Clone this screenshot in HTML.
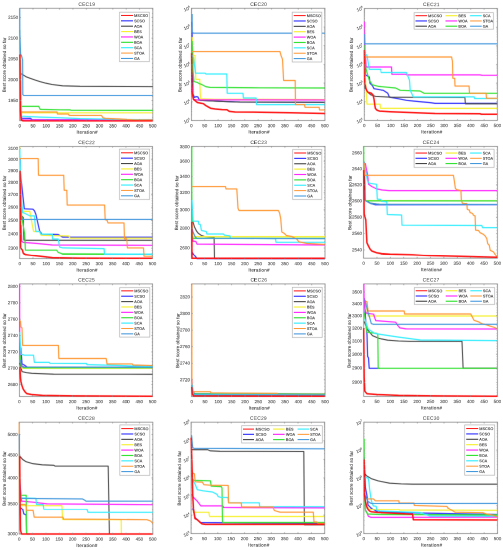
<!DOCTYPE html><html><head><meta charset="utf-8"><title>Convergence curves CEC19-CEC30</title><style>html,body{margin:0;padding:0;background:#fff;}svg{display:block;}#c{position:relative;width:503px;height:550px;overflow:hidden;}#w{position:absolute;left:0;top:0;width:1006px;height:1100px;transform:scale(0.5);transform-origin:0 0;will-change:transform;}</style></head><body><div id="c"><div id="w">
<svg width="1006" height="1100" viewBox="0 0 503 550" font-family="'Liberation Sans', Arial, Helvetica, sans-serif">
<defs><filter id="bl" x="0" y="0" width="503" height="550" filterUnits="userSpaceOnUse" color-interpolation-filters="sRGB"><feConvolveMatrix order="3" kernelMatrix="1 2 1 2 20 2 1 2 1" divisor="32" edgeMode="duplicate"/></filter></defs>
<rect width="503" height="550" fill="#fff"/>
<g filter="url(#bl)">
<g><clipPath id="c0"><rect x="18.7" y="7.3" width="135.1" height="114.4"/></clipPath><rect x="19.7" y="8.3" width="133.1" height="112.4" fill="none" stroke="#8a8a8a" stroke-width="0.8"/><g clip-path="url(#c0)" fill="none" stroke-linejoin="round" stroke-linecap="butt"><polyline points="20.4,100 21.2,118.3 30.5,118.4 32,119.6 152.8,119.9" stroke="#3535ff" stroke-width="1.2"/><polyline points="20.4,73.3 23,74.8 26,76.7 30,78.2 35,80 40,81.6 46,83.2 52,84.5 62.7,85.8 80,86.3 152.8,86.6" stroke="#454545" stroke-width="1.05"/><polyline points="20.3,60 20.8,112.8 152.8,112.8" stroke="#f6f030" stroke-width="1.2"/><polyline points="20.8,110 21.8,119.9 152.8,120" stroke="#ff28ff" stroke-width="1.2"/><polyline points="19.8,30 19.9,50 20.4,106.4 38.8,106.4 40.2,109.4 60,109.8 70.2,109.9 71,110.3 152.8,110.4" stroke="#34e234" stroke-width="1.2"/><polyline points="20.5,60 21.3,116.2 40,117.1 60,117.7 80,118.6 120,119.4 152.8,119.9" stroke="#34eeff" stroke-width="1.2"/><polyline points="19.9,50 20.1,54.5 20.8,111.9 57,111.9 57.5,114.1 68.4,114.1 69.2,115.4 101.5,115.4 103,117.8 105.4,118.3 120,119 132.5,119.8 152.8,119.9" stroke="#ff9632" stroke-width="1.15"/><polyline points="19.7,8.3 19.8,30 20.6,54 21.6,56 22.6,60 22.8,94.7 23.8,95.5 152.8,95.5" stroke="#4096dc" stroke-width="1.1"/><polyline points="19.9,54.5 20.3,110 21.2,119.8 23,120.9 152.8,121" stroke="#ff1010" stroke-width="1.5"/></g><path d="M19.7 120.7v-1.3M19.7 8.3v1.3M33.01 120.7v-1.3M33.01 8.3v1.3M46.32 120.7v-1.3M46.32 8.3v1.3M59.63 120.7v-1.3M59.63 8.3v1.3M72.94 120.7v-1.3M72.94 8.3v1.3M86.25 120.7v-1.3M86.25 8.3v1.3M99.56 120.7v-1.3M99.56 8.3v1.3M112.87 120.7v-1.3M112.87 8.3v1.3M126.18 120.7v-1.3M126.18 8.3v1.3M139.49 120.7v-1.3M139.49 8.3v1.3M152.8 120.7v-1.3M152.8 8.3v1.3M19.7 17.4h1.3M152.8 17.4h-1.3M19.7 38.2h1.3M152.8 38.2h-1.3M19.7 59h1.3M152.8 59h-1.3M19.7 79.8h1.3M152.8 79.8h-1.3M19.7 100.6h1.3M152.8 100.6h-1.3M152.8 9.08h-0.8M152.8 13.24h-0.8M152.8 17.4h-0.8M152.8 21.56h-0.8M152.8 25.72h-0.8M152.8 29.88h-0.8M152.8 34.04h-0.8M152.8 38.2h-0.8M152.8 42.36h-0.8M152.8 46.52h-0.8M152.8 50.68h-0.8M152.8 54.84h-0.8M152.8 59h-0.8M152.8 63.16h-0.8M152.8 67.32h-0.8M152.8 71.48h-0.8M152.8 75.64h-0.8M152.8 79.8h-0.8M152.8 83.96h-0.8M152.8 88.12h-0.8M152.8 92.28h-0.8M152.8 96.44h-0.8M152.8 100.6h-0.8M152.8 104.76h-0.8M152.8 108.92h-0.8M152.8 113.08h-0.8M152.8 117.24h-0.8" stroke="#8a8a8a" stroke-width="0.6" fill="none"/><rect x="119.5" y="12.2" width="29.8" height="49.5" fill="#fff" stroke="#a8a8a8" stroke-width="0.6"/></g>
<g><clipPath id="c1"><rect x="190.4" y="7.3" width="135.5" height="114.2"/></clipPath><rect x="191.4" y="8.3" width="133.5" height="112.2" fill="none" stroke="#8a8a8a" stroke-width="0.8"/><g clip-path="url(#c1)" fill="none" stroke-linejoin="round" stroke-linecap="butt"><polyline points="192,22 192.2,37 192.5,60 193,94 194.5,97.5 196,96.6 197.8,96.8 199,99.2 200.5,100.3 220,101.3 240,102 324.9,102.3" stroke="#3535ff" stroke-width="1.2"/><polyline points="192,80 193.5,99.5 200,100.4 220,101.3 235,102 324.9,102.3" stroke="#454545" stroke-width="1.05"/><polyline points="192.2,37 192.4,41 193.3,55.5 195,55.5 195.8,79.4 199.7,79.4 200.5,98.8 215,99.3 324.9,99.6" stroke="#f6f030" stroke-width="1.2"/><polyline points="192,85 193.5,99.8 324.9,100" stroke="#ff28ff" stroke-width="1.2"/><polyline points="192.2,41 192.4,51 193,70 193.9,81.3 195,81.8 197.4,82.4 199.2,83.6 201,84.2 203.4,85.4 205.7,86.6 209.8,87.4 260,87.8 324.9,88" stroke="#34e234" stroke-width="1.2"/><polyline points="192.5,55 193.5,57.8 195.5,73.2 205.1,73.2 206,74 226.8,74 227.2,93.3 243,93.3 243.4,98 256.1,98 256.5,104.6 324.9,104.6" stroke="#34eeff" stroke-width="1.2"/><polyline points="192,51.6 280,51.6 281,55.5 282.5,59.3 283.6,80.5 295.2,80.5 295.5,104.6 304.5,104.6 305,107.3 319.2,107.3 319.5,109.9 324.9,109.9" stroke="#ff9632" stroke-width="1.15"/><polyline points="192.2,14 192.2,32 193.4,33.2 324.9,33.2" stroke="#4096dc" stroke-width="1.1"/><polyline points="191.6,53 191.9,91.3 193.3,99 194.5,100.2 197.4,102.5 200.4,103.1 203.4,103.7 205.7,105.5 208.7,107.2 211,108.4 215.2,109 222.2,109.6 227,109.8 229.3,111.4 235,112 260,112.2 290,112.8 324.9,113.5" stroke="#ff1010" stroke-width="1.5"/></g><path d="M191.4 120.5v-1.3M191.4 8.3v1.3M204.75 120.5v-1.3M204.75 8.3v1.3M218.1 120.5v-1.3M218.1 8.3v1.3M231.45 120.5v-1.3M231.45 8.3v1.3M244.8 120.5v-1.3M244.8 8.3v1.3M258.15 120.5v-1.3M258.15 8.3v1.3M271.5 120.5v-1.3M271.5 8.3v1.3M284.85 120.5v-1.3M284.85 8.3v1.3M298.2 120.5v-1.3M298.2 8.3v1.3M311.55 120.5v-1.3M311.55 8.3v1.3M324.9 120.5v-1.3M324.9 8.3v1.3M191.4 8.3h1.3M324.9 8.3h-1.3M191.4 27h1.3M324.9 27h-1.3M191.4 45.7h1.3M324.9 45.7h-1.3M191.4 64.4h1.3M324.9 64.4h-1.3M191.4 83.1h1.3M324.9 83.1h-1.3M191.4 101.8h1.3M324.9 101.8h-1.3M191.4 120.5h1.3M324.9 120.5h-1.3M191.4 114.87h0.7M324.9 114.87h-0.7M191.4 111.58h0.7M324.9 111.58h-0.7M191.4 109.24h0.7M324.9 109.24h-0.7M191.4 107.43h0.7M324.9 107.43h-0.7M191.4 105.95h0.7M324.9 105.95h-0.7M191.4 104.7h0.7M324.9 104.7h-0.7M191.4 103.61h0.7M324.9 103.61h-0.7M191.4 102.66h0.7M324.9 102.66h-0.7M191.4 96.17h0.7M324.9 96.17h-0.7M191.4 92.88h0.7M324.9 92.88h-0.7M191.4 90.54h0.7M324.9 90.54h-0.7M191.4 88.73h0.7M324.9 88.73h-0.7M191.4 87.25h0.7M324.9 87.25h-0.7M191.4 86h0.7M324.9 86h-0.7M191.4 84.91h0.7M324.9 84.91h-0.7M191.4 83.96h0.7M324.9 83.96h-0.7M191.4 77.47h0.7M324.9 77.47h-0.7M191.4 74.18h0.7M324.9 74.18h-0.7M191.4 71.84h0.7M324.9 71.84h-0.7M191.4 70.03h0.7M324.9 70.03h-0.7M191.4 68.55h0.7M324.9 68.55h-0.7M191.4 67.3h0.7M324.9 67.3h-0.7M191.4 66.21h0.7M324.9 66.21h-0.7M191.4 65.26h0.7M324.9 65.26h-0.7M191.4 58.77h0.7M324.9 58.77h-0.7M191.4 55.48h0.7M324.9 55.48h-0.7M191.4 53.14h0.7M324.9 53.14h-0.7M191.4 51.33h0.7M324.9 51.33h-0.7M191.4 49.85h0.7M324.9 49.85h-0.7M191.4 48.6h0.7M324.9 48.6h-0.7M191.4 47.51h0.7M324.9 47.51h-0.7M191.4 46.56h0.7M324.9 46.56h-0.7M191.4 40.07h0.7M324.9 40.07h-0.7M191.4 36.78h0.7M324.9 36.78h-0.7M191.4 34.44h0.7M324.9 34.44h-0.7M191.4 32.63h0.7M324.9 32.63h-0.7M191.4 31.15h0.7M324.9 31.15h-0.7M191.4 29.9h0.7M324.9 29.9h-0.7M191.4 28.81h0.7M324.9 28.81h-0.7M191.4 27.86h0.7M324.9 27.86h-0.7M191.4 21.37h0.7M324.9 21.37h-0.7M191.4 18.08h0.7M324.9 18.08h-0.7M191.4 15.74h0.7M324.9 15.74h-0.7M191.4 13.93h0.7M324.9 13.93h-0.7M191.4 12.45h0.7M324.9 12.45h-0.7M191.4 11.2h0.7M324.9 11.2h-0.7M191.4 10.11h0.7M324.9 10.11h-0.7M191.4 9.16h0.7M324.9 9.16h-0.7" stroke="#8a8a8a" stroke-width="0.6" fill="none"/><rect x="292.2" y="12.2" width="29.6" height="49.8" fill="#fff" stroke="#a8a8a8" stroke-width="0.6"/></g>
<g><clipPath id="c2"><rect x="363.3" y="7.5" width="135.1" height="113.9"/></clipPath><rect x="364.3" y="8.5" width="133.1" height="111.9" fill="none" stroke="#8a8a8a" stroke-width="0.8"/><g clip-path="url(#c2)" fill="none" stroke-linejoin="round" stroke-linecap="butt"><polyline points="364.6,44 364.8,60 365.4,74.8 369.3,77 370,83.3 372.4,85.6 374,88.7 383.2,90.3 387.8,93.3 389.4,97.2 398.7,98.8 406.4,100.3 414.1,101.1 421.9,101.9 430,102.6 432,102.9 435,103.4 497.4,103.4" stroke="#3535ff" stroke-width="1.2"/><polyline points="364.6,60 365,87.9 368,92.5 370.8,94.9 375.5,96.4 390.9,97.2 420,97.4 464.9,97.5 465.4,103.8 497.4,103.8" stroke="#454545" stroke-width="1.05"/><polyline points="364.8,70 366.2,91 367,104.2 380.1,104.2 380.6,108.4 497.4,108.4" stroke="#f6f030" stroke-width="1.2"/><polyline points="364.5,21.5 364.6,34 365,50 366.2,67 391.5,67 391.9,74.3 406.4,74.3 406.8,74.9 480,74.9 482,75.3 497.4,75.3" stroke="#ff28ff" stroke-width="1.2"/><polyline points="364.6,45 365.4,66.3 367,72.5 369.3,80.2 372.4,84.8 378.6,86.4 395.6,88 400.2,90.3 420,91 424.2,93.3 497.4,93.3" stroke="#34e234" stroke-width="1.2"/><polyline points="364.8,50 365.4,53.9 367,55.5 369.3,69.4 380.9,69.4 381.2,72.5 406.4,72.5 409.5,80.2 410.2,90.3 413.3,96.9 474.2,96.9 474.6,98.5 497.4,98.5" stroke="#34eeff" stroke-width="1.2"/><polyline points="365,55 365.4,57 451.6,57 452.5,61.6 452.8,78.3 454.7,78.3 455,86.1 469.1,86.1 469.5,93.3 486.1,93.3 486.5,98.3 497.4,98.3" stroke="#ff9632" stroke-width="1.15"/><polyline points="364.6,34 364.7,43.8 365.5,43.8 497.4,43.8" stroke="#4096dc" stroke-width="1.1"/><polyline points="364.4,50 364.7,84.3 365.3,85.4 365.9,88.4 366.9,90.8 368.3,92.5 371.2,93.1 373,94.9 374,99 374.8,105 375.4,108.5 377.2,110.3 379.5,111.1 390,111.7 400,112.1 435,113.5 480,113.7 481,114.2 497.4,114.2" stroke="#ff1010" stroke-width="1.5"/></g><path d="M364.3 120.4v-1.3M364.3 8.5v1.3M377.61 120.4v-1.3M377.61 8.5v1.3M390.92 120.4v-1.3M390.92 8.5v1.3M404.23 120.4v-1.3M404.23 8.5v1.3M417.54 120.4v-1.3M417.54 8.5v1.3M430.85 120.4v-1.3M430.85 8.5v1.3M444.16 120.4v-1.3M444.16 8.5v1.3M457.47 120.4v-1.3M457.47 8.5v1.3M470.78 120.4v-1.3M470.78 8.5v1.3M484.09 120.4v-1.3M484.09 8.5v1.3M497.4 120.4v-1.3M497.4 8.5v1.3M364.3 8.5h1.3M497.4 8.5h-1.3M364.3 27.15h1.3M497.4 27.15h-1.3M364.3 45.8h1.3M497.4 45.8h-1.3M364.3 64.45h1.3M497.4 64.45h-1.3M364.3 83.1h1.3M497.4 83.1h-1.3M364.3 101.75h1.3M497.4 101.75h-1.3M364.3 120.4h1.3M497.4 120.4h-1.3M364.3 114.79h0.7M497.4 114.79h-0.7M364.3 111.5h0.7M497.4 111.5h-0.7M364.3 109.17h0.7M497.4 109.17h-0.7M364.3 107.36h0.7M497.4 107.36h-0.7M364.3 105.89h0.7M497.4 105.89h-0.7M364.3 104.64h0.7M497.4 104.64h-0.7M364.3 103.56h0.7M497.4 103.56h-0.7M364.3 102.6h0.7M497.4 102.6h-0.7M364.3 96.14h0.7M497.4 96.14h-0.7M364.3 92.85h0.7M497.4 92.85h-0.7M364.3 90.52h0.7M497.4 90.52h-0.7M364.3 88.71h0.7M497.4 88.71h-0.7M364.3 87.24h0.7M497.4 87.24h-0.7M364.3 85.99h0.7M497.4 85.99h-0.7M364.3 84.91h0.7M497.4 84.91h-0.7M364.3 83.95h0.7M497.4 83.95h-0.7M364.3 77.49h0.7M497.4 77.49h-0.7M364.3 74.2h0.7M497.4 74.2h-0.7M364.3 71.87h0.7M497.4 71.87h-0.7M364.3 70.06h0.7M497.4 70.06h-0.7M364.3 68.59h0.7M497.4 68.59h-0.7M364.3 67.34h0.7M497.4 67.34h-0.7M364.3 66.26h0.7M497.4 66.26h-0.7M364.3 65.3h0.7M497.4 65.3h-0.7M364.3 58.84h0.7M497.4 58.84h-0.7M364.3 55.55h0.7M497.4 55.55h-0.7M364.3 53.22h0.7M497.4 53.22h-0.7M364.3 51.41h0.7M497.4 51.41h-0.7M364.3 49.94h0.7M497.4 49.94h-0.7M364.3 48.69h0.7M497.4 48.69h-0.7M364.3 47.61h0.7M497.4 47.61h-0.7M364.3 46.65h0.7M497.4 46.65h-0.7M364.3 40.19h0.7M497.4 40.19h-0.7M364.3 36.9h0.7M497.4 36.9h-0.7M364.3 34.57h0.7M497.4 34.57h-0.7M364.3 32.76h0.7M497.4 32.76h-0.7M364.3 31.29h0.7M497.4 31.29h-0.7M364.3 30.04h0.7M497.4 30.04h-0.7M364.3 28.96h0.7M497.4 28.96h-0.7M364.3 28h0.7M497.4 28h-0.7M364.3 21.54h0.7M497.4 21.54h-0.7M364.3 18.25h0.7M497.4 18.25h-0.7M364.3 15.92h0.7M497.4 15.92h-0.7M364.3 14.11h0.7M497.4 14.11h-0.7M364.3 12.64h0.7M497.4 12.64h-0.7M364.3 11.39h0.7M497.4 11.39h-0.7M364.3 10.31h0.7M497.4 10.31h-0.7M364.3 9.35h0.7M497.4 9.35h-0.7" stroke="#8a8a8a" stroke-width="0.6" fill="none"/><rect x="414.1" y="12.7" width="79.4" height="16.5" fill="#fff" stroke="#a8a8a8" stroke-width="0.6"/></g>
<g><clipPath id="c3"><rect x="18.7" y="145.5" width="134.8" height="114.1"/></clipPath><rect x="19.7" y="146.5" width="132.8" height="112.1" fill="none" stroke="#8a8a8a" stroke-width="0.8"/><g clip-path="url(#c3)" fill="none" stroke-linejoin="round" stroke-linecap="butt"><polyline points="20.2,160 20.4,173 24.3,208.8 32.9,209.2 34.4,210.7 35.9,214.4 37.4,221.1 39.6,230.8 41.8,234.1 58.2,234.5 61.2,236.4 63,237.2 152.5,237.2" stroke="#3535ff" stroke-width="1.2"/><polyline points="20.5,215 23.2,217.4 23.9,240.1 25,240.3 152.5,240.3" stroke="#454545" stroke-width="1.05"/><polyline points="19.7,146.5 19.8,152 20.2,190 20.5,205 21.7,211.4 29.9,211.4 31.4,220.3 33.6,231.5 39.6,231.5 41.1,235.3 68.7,236 70,238.1 152.5,238.1" stroke="#f6f030" stroke-width="1.2"/><polyline points="21,225 21.7,241.2 23.2,242.4 37.4,243.5 52.3,245 152.5,245.3" stroke="#ff28ff" stroke-width="1.2"/><polyline points="21,200 21.7,217.4 24.7,233.8 25.4,250.2 56.7,250.2 58.2,252.4 62.7,253.9 152.5,254.2" stroke="#34e234" stroke-width="1.2"/><polyline points="19.8,149 20.1,161.6 21.5,200 22.7,212.7 23.9,212.9 29.9,215.9 34.4,215.9 35.9,231.5 39.6,231.5 40.3,233 41,234.1 52.3,234.1 52.6,239 58.2,239 59.7,247.2 63,247.9 104.1,248.6 104.5,254.1 152.5,254.1" stroke="#34eeff" stroke-width="1.2"/><polyline points="19.9,158.6 38.2,158.6 38.5,175.3 63.7,175.3 64.2,190.3 66.8,190.3 67.2,205.1 104.6,205.1 105.2,219.7 107,220.2 108,222.9 124,222.9 124.5,238.8 127,238.8 127.4,247.9 143.5,247.9 144,256.2 152.5,256.3" stroke="#ff9632" stroke-width="1.15"/><polyline points="20,205 21.2,219.4 152.5,219.4" stroke="#4096dc" stroke-width="1.1"/><polyline points="20.1,170.9 20.6,247.9 22.5,250.2 23.2,253.1 25.4,254.6 32.9,255.4 41.8,256.4 52.3,257.6 80,258.1 152.5,258.3" stroke="#ff1010" stroke-width="1.5"/></g><path d="M19.7 258.6v-1.3M19.7 146.5v1.3M32.98 258.6v-1.3M32.98 146.5v1.3M46.26 258.6v-1.3M46.26 146.5v1.3M59.54 258.6v-1.3M59.54 146.5v1.3M72.82 258.6v-1.3M72.82 146.5v1.3M86.1 258.6v-1.3M86.1 146.5v1.3M99.38 258.6v-1.3M99.38 146.5v1.3M112.66 258.6v-1.3M112.66 146.5v1.3M125.94 258.6v-1.3M125.94 146.5v1.3M139.22 258.6v-1.3M139.22 146.5v1.3M152.5 258.6v-1.3M152.5 146.5v1.3M19.7 148.5h1.3M152.5 148.5h-1.3M19.7 159.45h1.3M152.5 159.45h-1.3M19.7 170.77h1.3M152.5 170.77h-1.3M19.7 182.49h1.3M152.5 182.49h-1.3M19.7 194.64h1.3M152.5 194.64h-1.3M19.7 207.24h1.3M152.5 207.24h-1.3M19.7 220.34h1.3M152.5 220.34h-1.3M19.7 233.97h1.3M152.5 233.97h-1.3M19.7 248.19h1.3M152.5 248.19h-1.3M152.5 148.5h-0.8M152.5 150.99h-0.8M152.5 153.48h-0.8M152.5 155.98h-0.8M152.5 158.47h-0.8M152.5 160.96h-0.8M152.5 163.45h-0.8M152.5 165.95h-0.8M152.5 168.44h-0.8M152.5 170.93h-0.8M152.5 173.42h-0.8M152.5 175.91h-0.8M152.5 178.41h-0.8M152.5 180.9h-0.8M152.5 183.39h-0.8M152.5 185.88h-0.8M152.5 188.38h-0.8M152.5 190.87h-0.8M152.5 193.36h-0.8M152.5 195.85h-0.8M152.5 198.34h-0.8M152.5 200.84h-0.8M152.5 203.33h-0.8M152.5 205.82h-0.8M152.5 208.31h-0.8M152.5 210.81h-0.8M152.5 213.3h-0.8M152.5 215.79h-0.8M152.5 218.28h-0.8M152.5 220.77h-0.8M152.5 223.27h-0.8M152.5 225.76h-0.8M152.5 228.25h-0.8M152.5 230.74h-0.8M152.5 233.24h-0.8M152.5 235.73h-0.8M152.5 238.22h-0.8M152.5 240.71h-0.8M152.5 243.2h-0.8M152.5 245.7h-0.8M152.5 248.19h-0.8M152.5 250.68h-0.8M152.5 253.17h-0.8M152.5 255.67h-0.8M152.5 258.16h-0.8" stroke="#8a8a8a" stroke-width="0.6" fill="none"/><rect x="119.5" y="149.1" width="30" height="50.4" fill="#fff" stroke="#a8a8a8" stroke-width="0.6"/></g>
<g><clipPath id="c4"><rect x="190.4" y="145.4" width="135.6" height="114.2"/></clipPath><rect x="191.4" y="146.4" width="133.6" height="112.2" fill="none" stroke="#8a8a8a" stroke-width="0.8"/><g clip-path="url(#c4)" fill="none" stroke-linejoin="round" stroke-linecap="butt"><polyline points="192,252 192.9,253.6 195.9,257 197,258.6 325,258.6" stroke="#3535ff" stroke-width="1.2"/><polyline points="192,215 193,222 194.5,227 196.5,231 198.2,233.2 201,235.2 205,236.6 214.1,237.3 214.5,258.6 325,258.6" stroke="#454545" stroke-width="1.05"/><polyline points="192,226 192.9,236.6 325,236.6" stroke="#f6f030" stroke-width="1.2"/><polyline points="192,236 192.9,241.1 195.9,241.5 197,244.1 250,244.5 325,245" stroke="#ff28ff" stroke-width="1.2"/><polyline points="191.8,146.4 191.8,192 192.2,236 193,238.4 325,238.4" stroke="#34e234" stroke-width="1.2"/><polyline points="192,200 192.5,208 193,221.2 198.4,221.2 198.8,224.3 200.2,224.3 200.8,226.7 201.4,230.4 206.3,231.6 206.9,234 223.4,234 224.6,235.2 230,235.8 230.3,238.3 275.5,238.6 276,242.3 325,242.3" stroke="#34eeff" stroke-width="1.2"/><polyline points="191.8,186.6 225.5,186.6 226,188.9 236.8,188.9 238,208.2 239,210.5 278.4,210.5 279.5,212.7 280.7,218.4 281.8,232 284,233.2 286.4,235.5 292,236.6 296.6,238.9 298.9,241.8 306.8,243.4 325,244.5" stroke="#ff9632" stroke-width="1.15"/><polyline points="192,228 192.9,231.6 195.3,237.1 197.1,238.3 325,238.7" stroke="#4096dc" stroke-width="1.1"/><polyline points="191.8,222 192,258.2 325,258.2" stroke="#ff1010" stroke-width="1.5"/></g><path d="M191.4 258.6v-1.3M191.4 146.4v1.3M204.76 258.6v-1.3M204.76 146.4v1.3M218.12 258.6v-1.3M218.12 146.4v1.3M231.48 258.6v-1.3M231.48 146.4v1.3M244.84 258.6v-1.3M244.84 146.4v1.3M258.2 258.6v-1.3M258.2 146.4v1.3M271.56 258.6v-1.3M271.56 146.4v1.3M284.92 258.6v-1.3M284.92 146.4v1.3M298.28 258.6v-1.3M298.28 146.4v1.3M311.64 258.6v-1.3M311.64 146.4v1.3M325 258.6v-1.3M325 146.4v1.3M191.4 146.8h1.3M325 146.8h-1.3M191.4 161.22h1.3M325 161.22h-1.3M191.4 176.46h1.3M325 176.46h-1.3M191.4 192.63h1.3M325 192.63h-1.3M191.4 209.83h1.3M325 209.83h-1.3M191.4 228.23h1.3M325 228.23h-1.3M191.4 247.99h1.3M325 247.99h-1.3M325 146.8h-0.8M325 150.17h-0.8M325 153.55h-0.8M325 156.92h-0.8M325 160.29h-0.8M325 163.67h-0.8M325 167.04h-0.8M325 170.41h-0.8M325 173.78h-0.8M325 177.16h-0.8M325 180.53h-0.8M325 183.9h-0.8M325 187.28h-0.8M325 190.65h-0.8M325 194.02h-0.8M325 197.4h-0.8M325 200.77h-0.8M325 204.14h-0.8M325 207.52h-0.8M325 210.89h-0.8M325 214.26h-0.8M325 217.64h-0.8M325 221.01h-0.8M325 224.38h-0.8M325 227.75h-0.8M325 231.13h-0.8M325 234.5h-0.8M325 237.87h-0.8M325 241.25h-0.8M325 244.62h-0.8M325 247.99h-0.8M325 251.37h-0.8M325 254.74h-0.8M325 258.11h-0.8" stroke="#8a8a8a" stroke-width="0.6" fill="none"/><rect x="292.7" y="149.5" width="29.1" height="50" fill="#fff" stroke="#a8a8a8" stroke-width="0.6"/></g>
<g><clipPath id="c5"><rect x="362.6" y="145.4" width="135.8" height="113.8"/></clipPath><rect x="363.6" y="146.4" width="133.8" height="111.8" fill="none" stroke="#8a8a8a" stroke-width="0.8"/><g clip-path="url(#c5)" fill="none" stroke-linejoin="round" stroke-linecap="butt"><polyline points="364.1,161.6 365.2,200.2 370.9,203.6 375.5,204.8 497.4,204.6" stroke="#3535ff" stroke-width="1.2"/><polyline points="364.5,175 364.8,200.2 370,203 380,204.4 497.4,204.5" stroke="#454545" stroke-width="1.05"/><polyline points="364,195 364.5,200.6 497.4,200.8" stroke="#f6f030" stroke-width="1.2"/><polyline points="365.2,163 367.5,174.1 368.6,184.3 372,186.6 376.6,188.9 382.3,190 389.1,190.6 497.4,190.6" stroke="#ff28ff" stroke-width="1.2"/><polyline points="363.7,146.4 363.9,200.3 365,200.9 497.4,200.9" stroke="#34e234" stroke-width="1.2"/><polyline points="364.5,165 367.5,180.9 369.1,183.2 376.6,184.3 377.3,199.1 381.1,199.5 381.8,201.4 386.8,201.8 387.3,214.5 401.6,215 402,225.2 481.8,225.5 482.6,227.6 497.4,227.6" stroke="#34eeff" stroke-width="1.2"/><polyline points="364.2,163 364.5,175.2 365.2,175.3 453.4,175.3 454.2,180 455.4,188.4 456.7,189.7 460.9,190.4 461.4,200.9 462.6,203.4 466.8,203.6 467.3,209.3 469.3,210.1 470.1,212.6 472.6,213.5 473.4,215.2 475.1,216 475.6,230.2 478.5,230.5 480.1,232.7 483.5,234.4 485.2,236 486.8,238.6 487.7,243.6 489.3,245.3 490.2,250.3 493.5,251.9 495.2,254.4 497.4,257.3" stroke="#ff9632" stroke-width="1.15"/><polyline points="364.5,190 365,200.5 370.9,203.6 380,204.4 497.4,204.4" stroke="#4096dc" stroke-width="1.1"/><polyline points="363.7,170 364.2,214 364.8,216.4 365.8,220 366.4,232.7 366.9,242.7 368.2,245.5 370,249 371.8,251 376.4,252.7 381.8,253.6 390,254.2 412,254.8 430,255.5 460,256.3 497.4,257.3" stroke="#ff1010" stroke-width="1.5"/></g><path d="M363.6 258.2v-1.3M363.6 146.4v1.3M376.98 258.2v-1.3M376.98 146.4v1.3M390.36 258.2v-1.3M390.36 146.4v1.3M403.74 258.2v-1.3M403.74 146.4v1.3M417.12 258.2v-1.3M417.12 146.4v1.3M430.5 258.2v-1.3M430.5 146.4v1.3M443.88 258.2v-1.3M443.88 146.4v1.3M457.26 258.2v-1.3M457.26 146.4v1.3M470.64 258.2v-1.3M470.64 146.4v1.3M484.02 258.2v-1.3M484.02 146.4v1.3M497.4 258.2v-1.3M497.4 146.4v1.3M363.6 153h1.3M497.4 153h-1.3M363.6 168.86h1.3M497.4 168.86h-1.3M363.6 184.84h1.3M497.4 184.84h-1.3M363.6 200.94h1.3M497.4 200.94h-1.3M363.6 217.16h1.3M497.4 217.16h-1.3M363.6 233.51h1.3M497.4 233.51h-1.3M363.6 249.99h1.3M497.4 249.99h-1.3M497.4 146.53h-0.8M497.4 149.77h-0.8M497.4 153h-0.8M497.4 156.23h-0.8M497.4 159.47h-0.8M497.4 162.7h-0.8M497.4 165.93h-0.8M497.4 169.17h-0.8M497.4 172.4h-0.8M497.4 175.63h-0.8M497.4 178.86h-0.8M497.4 182.1h-0.8M497.4 185.33h-0.8M497.4 188.56h-0.8M497.4 191.8h-0.8M497.4 195.03h-0.8M497.4 198.26h-0.8M497.4 201.5h-0.8M497.4 204.73h-0.8M497.4 207.96h-0.8M497.4 211.2h-0.8M497.4 214.43h-0.8M497.4 217.66h-0.8M497.4 220.89h-0.8M497.4 224.13h-0.8M497.4 227.36h-0.8M497.4 230.59h-0.8M497.4 233.83h-0.8M497.4 237.06h-0.8M497.4 240.29h-0.8M497.4 243.53h-0.8M497.4 246.76h-0.8M497.4 249.99h-0.8M497.4 253.22h-0.8M497.4 256.46h-0.8" stroke="#8a8a8a" stroke-width="0.6" fill="none"/><rect x="414.1" y="149.2" width="80" height="18.2" fill="#fff" stroke="#a8a8a8" stroke-width="0.6"/></g>
<g><clipPath id="c6"><rect x="18.4" y="282.9" width="135.2" height="114.6"/></clipPath><rect x="19.4" y="283.9" width="133.2" height="112.6" fill="none" stroke="#8a8a8a" stroke-width="0.8"/><g clip-path="url(#c6)" fill="none" stroke-linejoin="round" stroke-linecap="butt"><polyline points="20.9,347.6 22,363.9 24.2,365 27.4,367.2 152.6,367.2" stroke="#3535ff" stroke-width="1.2"/><polyline points="19.8,362.8 22,371.6 26.4,372.6 31.8,373.3 53.6,374.2 152.6,374.3" stroke="#454545" stroke-width="1.05"/><polyline points="20.9,364 22,368.3 152.6,368.3" stroke="#f6f030" stroke-width="1.2"/><polyline points="19.6,283.9 19.7,343 20.5,362 22,366 25,367.3 152.6,367.5" stroke="#ff28ff" stroke-width="1.2"/><polyline points="20.2,355 21,366 24,367.8 152.6,367.8" stroke="#34e234" stroke-width="1.2"/><polyline points="19.8,332 20.9,354.1 24.2,355.2 33.5,355.2 34.4,362.4 49.2,362.4 50,363.3 86.5,363.5 87,364.6 120,365.5 152.6,366.6" stroke="#34eeff" stroke-width="1.2"/><polyline points="19.8,320.3 20.5,321.4 20.9,326.9 22,327.9 22.6,345.4 58.4,345.4 58.8,358.5 106.2,358.5 107,363.9 132.3,363.9 133,365 152.6,365.6" stroke="#ff9632" stroke-width="1.15"/><polyline points="20.5,360 22,367 152.6,367.3" stroke="#4096dc" stroke-width="1.1"/><polyline points="19.8,367.2 20.1,371 20.5,378 21,381.8 21.9,385.5 23.2,389.1 25,391.8 26.8,393.6 31.4,394.5 42.3,395.4 75,395.9 152.6,396.2" stroke="#ff1010" stroke-width="1.5"/></g><path d="M19.4 396.5v-1.3M19.4 283.9v1.3M32.72 396.5v-1.3M32.72 283.9v1.3M46.04 396.5v-1.3M46.04 283.9v1.3M59.36 396.5v-1.3M59.36 283.9v1.3M72.68 396.5v-1.3M72.68 283.9v1.3M86 396.5v-1.3M86 283.9v1.3M99.32 396.5v-1.3M99.32 283.9v1.3M112.64 396.5v-1.3M112.64 283.9v1.3M125.96 396.5v-1.3M125.96 283.9v1.3M139.28 396.5v-1.3M139.28 283.9v1.3M152.6 396.5v-1.3M152.6 283.9v1.3M19.4 286.5h1.3M152.6 286.5h-1.3M19.4 302.85h1.3M152.6 302.85h-1.3M19.4 319.2h1.3M152.6 319.2h-1.3M19.4 335.55h1.3M152.6 335.55h-1.3M19.4 351.9h1.3M152.6 351.9h-1.3M19.4 368.25h1.3M152.6 368.25h-1.3M19.4 384.6h1.3M152.6 384.6h-1.3M152.6 286.5h-0.8M152.6 289.77h-0.8M152.6 293.04h-0.8M152.6 296.31h-0.8M152.6 299.58h-0.8M152.6 302.85h-0.8M152.6 306.12h-0.8M152.6 309.39h-0.8M152.6 312.66h-0.8M152.6 315.93h-0.8M152.6 319.2h-0.8M152.6 322.47h-0.8M152.6 325.74h-0.8M152.6 329.01h-0.8M152.6 332.28h-0.8M152.6 335.55h-0.8M152.6 338.82h-0.8M152.6 342.09h-0.8M152.6 345.36h-0.8M152.6 348.63h-0.8M152.6 351.9h-0.8M152.6 355.17h-0.8M152.6 358.44h-0.8M152.6 361.71h-0.8M152.6 364.98h-0.8M152.6 368.25h-0.8M152.6 371.52h-0.8M152.6 374.79h-0.8M152.6 378.06h-0.8M152.6 381.33h-0.8M152.6 384.6h-0.8M152.6 387.87h-0.8M152.6 391.14h-0.8M152.6 394.41h-0.8" stroke="#8a8a8a" stroke-width="0.6" fill="none"/><rect x="119.7" y="287.6" width="30.1" height="49.5" fill="#fff" stroke="#a8a8a8" stroke-width="0.6"/></g>
<g><clipPath id="c7"><rect x="190.6" y="282.9" width="135.5" height="114.7"/></clipPath><rect x="191.6" y="283.9" width="133.5" height="112.7" fill="none" stroke="#8a8a8a" stroke-width="0.8"/><g clip-path="url(#c7)" fill="none" stroke-linejoin="round" stroke-linecap="butt"><polyline points="192,386 192.8,393.5 195,394.6 325.1,394.8" stroke="#3535ff" stroke-width="1.2"/><polyline points="191.8,380 192.5,392.5 195,393.5 325.1,393.9" stroke="#454545" stroke-width="1.05"/><polyline points="192,388 193,394 325.1,394.4" stroke="#f6f030" stroke-width="1.2"/><polyline points="191.9,378 192.6,392 194,394.3 325.1,394.6" stroke="#ff28ff" stroke-width="1.2"/><polyline points="192,387 193,393.8 325.1,394.3" stroke="#34e234" stroke-width="1.2"/><polyline points="192,383 193.5,394.2 325.1,394.8" stroke="#34eeff" stroke-width="1.2"/><polyline points="191.8,283.9 191.9,385 192.5,390.6 192.9,391.7 210.3,391.7 211,392.8 229.7,393.1 277.4,393.3 278,395 325.1,395" stroke="#ff9632" stroke-width="1.15"/><polyline points="191.8,385 193,394.5 195,395 325.1,395.1" stroke="#4096dc" stroke-width="1.1"/><polyline points="191.7,387 192.2,394 193.5,395.9 325.1,396.3" stroke="#ff1010" stroke-width="1.5"/></g><path d="M191.6 396.6v-1.3M191.6 283.9v1.3M204.95 396.6v-1.3M204.95 283.9v1.3M218.3 396.6v-1.3M218.3 283.9v1.3M231.65 396.6v-1.3M231.65 283.9v1.3M245 396.6v-1.3M245 283.9v1.3M258.35 396.6v-1.3M258.35 283.9v1.3M271.7 396.6v-1.3M271.7 283.9v1.3M285.05 396.6v-1.3M285.05 283.9v1.3M298.4 396.6v-1.3M298.4 283.9v1.3M311.75 396.6v-1.3M311.75 283.9v1.3M325.1 396.6v-1.3M325.1 283.9v1.3M191.6 297h1.3M325.1 297h-1.3M191.6 313.56h1.3M325.1 313.56h-1.3M191.6 330.12h1.3M325.1 330.12h-1.3M191.6 346.68h1.3M325.1 346.68h-1.3M191.6 363.24h1.3M325.1 363.24h-1.3M191.6 379.8h1.3M325.1 379.8h-1.3M325.1 287.06h-0.8M325.1 290.38h-0.8M325.1 293.69h-0.8M325.1 297h-0.8M325.1 300.31h-0.8M325.1 303.62h-0.8M325.1 306.94h-0.8M325.1 310.25h-0.8M325.1 313.56h-0.8M325.1 316.87h-0.8M325.1 320.18h-0.8M325.1 323.5h-0.8M325.1 326.81h-0.8M325.1 330.12h-0.8M325.1 333.43h-0.8M325.1 336.74h-0.8M325.1 340.06h-0.8M325.1 343.37h-0.8M325.1 346.68h-0.8M325.1 349.99h-0.8M325.1 353.3h-0.8M325.1 356.62h-0.8M325.1 359.93h-0.8M325.1 363.24h-0.8M325.1 366.55h-0.8M325.1 369.86h-0.8M325.1 373.18h-0.8M325.1 376.49h-0.8M325.1 379.8h-0.8M325.1 383.11h-0.8M325.1 386.42h-0.8M325.1 389.74h-0.8M325.1 393.05h-0.8M325.1 396.36h-0.8" stroke="#8a8a8a" stroke-width="0.6" fill="none"/><rect x="292.3" y="287.3" width="29.9" height="50.2" fill="#fff" stroke="#a8a8a8" stroke-width="0.6"/></g>
<g><clipPath id="c8"><rect x="362.7" y="282.9" width="135.7" height="114.5"/></clipPath><rect x="363.7" y="283.9" width="133.7" height="112.5" fill="none" stroke="#8a8a8a" stroke-width="0.8"/><g clip-path="url(#c8)" fill="none" stroke-linejoin="round" stroke-linecap="butt"><polyline points="364.2,298 365.9,323.6 367,334.5 367.6,356.3 368.5,358 369.2,368.3 376.8,368.3 380,368.3" stroke="#3535ff" stroke-width="1.2"/><polyline points="364.2,321.4 367,329 372.4,335.6 379,338.4 387.7,340.2 398.6,341 409.5,341.4 462,341.4 463.1,368.2 497.4,368.2" stroke="#454545" stroke-width="1.05"/><polyline points="365.9,305 368.1,316 497.4,316" stroke="#f6f030" stroke-width="1.2"/><polyline points="363.9,283.9 364.1,300 365.2,310.5 366.2,313.2 373.7,314.2 374.7,317.8 375.8,320.6 395.7,322.2 397.8,325.5 399.8,327.9 406,328.9 497.4,329" stroke="#ff28ff" stroke-width="1.2"/><polyline points="364.2,312.7 367,332.3 376.7,333.4 377.8,334.5 378.2,368.3 497.4,368.3" stroke="#34e234" stroke-width="1.2"/><polyline points="364.8,319.2 368.1,329 374.6,333.4 381.2,334.5 398.6,337.1 420.4,340 497.4,340.6" stroke="#34eeff" stroke-width="1.2"/><polyline points="364.8,300.7 367,301.8 368.1,311 404.2,311 404.6,314 470.8,314 471.8,316 474,320.3 478.4,321.8 481.6,323.6 486,324.7 490.4,326.2 494.7,327.5 497.4,329" stroke="#ff9632" stroke-width="1.15"/><polyline points="364.8,299.6 368.1,312.7 369.8,318.1 371.3,323.6 373.5,324.3 497.4,324.3" stroke="#4096dc" stroke-width="1.1"/><polyline points="363.7,328 364.2,378 364.8,391.2 367,393.8 376.8,394.5 398.6,395.4 435,395.9 497.4,396.2" stroke="#ff1010" stroke-width="1.5"/></g><path d="M363.7 396.4v-1.3M363.7 283.9v1.3M377.07 396.4v-1.3M377.07 283.9v1.3M390.44 396.4v-1.3M390.44 283.9v1.3M403.81 396.4v-1.3M403.81 283.9v1.3M417.18 396.4v-1.3M417.18 283.9v1.3M430.55 396.4v-1.3M430.55 283.9v1.3M443.92 396.4v-1.3M443.92 283.9v1.3M457.29 396.4v-1.3M457.29 283.9v1.3M470.66 396.4v-1.3M470.66 283.9v1.3M484.03 396.4v-1.3M484.03 283.9v1.3M497.4 396.4v-1.3M497.4 283.9v1.3M363.7 292.1h1.3M497.4 292.1h-1.3M363.7 303.8h1.3M497.4 303.8h-1.3M363.7 315.86h1.3M497.4 315.86h-1.3M363.7 328.28h1.3M497.4 328.28h-1.3M363.7 341.1h1.3M497.4 341.1h-1.3M363.7 354.34h1.3M497.4 354.34h-1.3M363.7 368.03h1.3M497.4 368.03h-1.3M363.7 382.2h1.3M497.4 382.2h-1.3M497.4 284.38h-0.8M497.4 286.95h-0.8M497.4 289.53h-0.8M497.4 292.1h-0.8M497.4 294.67h-0.8M497.4 297.25h-0.8M497.4 299.82h-0.8M497.4 302.4h-0.8M497.4 304.97h-0.8M497.4 307.55h-0.8M497.4 310.12h-0.8M497.4 312.69h-0.8M497.4 315.27h-0.8M497.4 317.84h-0.8M497.4 320.42h-0.8M497.4 322.99h-0.8M497.4 325.56h-0.8M497.4 328.14h-0.8M497.4 330.71h-0.8M497.4 333.29h-0.8M497.4 335.86h-0.8M497.4 338.44h-0.8M497.4 341.01h-0.8M497.4 343.58h-0.8M497.4 346.16h-0.8M497.4 348.73h-0.8M497.4 351.31h-0.8M497.4 353.88h-0.8M497.4 356.46h-0.8M497.4 359.03h-0.8M497.4 361.6h-0.8M497.4 364.18h-0.8M497.4 366.75h-0.8M497.4 369.33h-0.8M497.4 371.9h-0.8M497.4 374.47h-0.8M497.4 377.05h-0.8M497.4 379.62h-0.8M497.4 382.2h-0.8M497.4 384.77h-0.8M497.4 387.35h-0.8M497.4 389.92h-0.8M497.4 392.49h-0.8M497.4 395.07h-0.8" stroke="#8a8a8a" stroke-width="0.6" fill="none"/><rect x="414.3" y="287.6" width="80.4" height="16.8" fill="#fff" stroke="#a8a8a8" stroke-width="0.6"/></g>
<g><clipPath id="c9"><rect x="18.2" y="421.2" width="135.6" height="113.8"/></clipPath><rect x="19.2" y="422.2" width="133.6" height="111.8" fill="none" stroke="#8a8a8a" stroke-width="0.8"/><g clip-path="url(#c9)" fill="none" stroke-linejoin="round" stroke-linecap="butt"><polyline points="20.4,508 22.7,509.2 23.8,513.8 26.2,515 26.6,534 30,534" stroke="#3535ff" stroke-width="1.2"/><polyline points="19.7,456.1 22.7,459.5 26.2,461.8 33.1,463.7 42.3,464.8 53.8,465.3 55,466.1 108.2,466.1 109.4,534 152.8,534" stroke="#454545" stroke-width="1.05"/><polyline points="20.6,504.5 22.7,505.7 61.9,505.7 62.6,519.5 121.2,519.7 121.4,534" stroke="#f6f030" stroke-width="1.2"/><polyline points="19.7,480.3 21.5,501.1 33.1,502.2 46.9,503.9 152.8,504.7" stroke="#ff28ff" stroke-width="1.2"/><polyline points="20.6,495.3 26.2,495.3 26.6,534" stroke="#34e234" stroke-width="1.2"/><polyline points="20.4,496.5 21.5,497.8 35.9,498.3 36.5,504.5 43.2,504.6 43.8,509.1 87,509.2 88,512.3 152.8,512.3" stroke="#34eeff" stroke-width="1.2"/><polyline points="19.3,422.2 19.4,503 20.4,504.5 25,504.5 26.2,505.7 26.6,510.3 33.1,510.3 34.2,517.2 63.1,517.2 63.5,519.1 105.4,519.3 147,519.7 150.5,521 152.8,523.2" stroke="#ff9632" stroke-width="1.15"/><polyline points="19.3,434 19.4,452 20.4,497.6 22,498.4 82.3,498.9 84.6,500.1 86,501.2 152.8,501.2" stroke="#4096dc" stroke-width="1.1"/><polyline points="19.7,456.1 20.1,500 20.5,530 21.5,534 152.8,534" stroke="#ff1010" stroke-width="1.5"/></g><path d="M19.2 534v-1.3M19.2 422.2v1.3M32.56 534v-1.3M32.56 422.2v1.3M45.92 534v-1.3M45.92 422.2v1.3M59.28 534v-1.3M59.28 422.2v1.3M72.64 534v-1.3M72.64 422.2v1.3M86 534v-1.3M86 422.2v1.3M99.36 534v-1.3M99.36 422.2v1.3M112.72 534v-1.3M112.72 422.2v1.3M126.08 534v-1.3M126.08 422.2v1.3M139.44 534v-1.3M139.44 422.2v1.3M152.8 534v-1.3M152.8 422.2v1.3M19.2 434.6h1.3M152.8 434.6h-1.3M19.2 455.08h1.3M152.8 455.08h-1.3M19.2 477.98h1.3M152.8 477.98h-1.3M19.2 503.93h1.3M152.8 503.93h-1.3M19.2 533.9h1.3M152.8 533.9h-1.3M152.8 424.67h-0.8M152.8 429.64h-0.8M152.8 434.6h-0.8M152.8 439.56h-0.8M152.8 444.53h-0.8M152.8 449.49h-0.8M152.8 454.46h-0.8M152.8 459.42h-0.8M152.8 464.39h-0.8M152.8 469.35h-0.8M152.8 474.32h-0.8M152.8 479.28h-0.8M152.8 484.25h-0.8M152.8 489.21h-0.8M152.8 494.18h-0.8M152.8 499.14h-0.8M152.8 504.11h-0.8M152.8 509.07h-0.8M152.8 514.04h-0.8M152.8 519h-0.8M152.8 523.97h-0.8M152.8 528.93h-0.8M152.8 533.9h-0.8" stroke="#8a8a8a" stroke-width="0.6" fill="none"/><rect x="119.8" y="424.9" width="30" height="50.4" fill="#fff" stroke="#a8a8a8" stroke-width="0.6"/></g>
<g><clipPath id="c10"><rect x="190.1" y="421.2" width="135.6" height="113.4"/></clipPath><rect x="191.1" y="422.2" width="133.6" height="111.4" fill="none" stroke="#8a8a8a" stroke-width="0.8"/><g clip-path="url(#c10)" fill="none" stroke-linejoin="round" stroke-linecap="butt"><polyline points="192.7,508.2 195,517.4 198.5,520.9 200.8,522.5 324.7,523.5" stroke="#3535ff" stroke-width="1.2"/><polyline points="191.6,449 192.5,449.7 207.7,449.7 210,450.8 220,451.3 303.8,451.5 304.4,524.8 324.7,524.9" stroke="#454545" stroke-width="1.05"/><polyline points="192.7,510.5 195,512.3 208.9,512.3 209.6,516.5 324.7,516.5" stroke="#f6f030" stroke-width="1.2"/><polyline points="191.6,494.3 193.9,497.8 197.3,501.2 200.8,505.9 222.8,505.9 223.5,507.4 324.7,507.7" stroke="#ff28ff" stroke-width="1.2"/><polyline points="192.7,479.3 193.7,480.4 210.4,480.8 211.2,486.1 221.3,486.6 222,488 222.5,522 223,522.5 324.7,522.5" stroke="#34e234" stroke-width="1.2"/><polyline points="191.6,464.2 192.7,480.4 195,483.9 197.3,489.7 203.1,490.8 212.4,492 217,494.3 218.2,496.6 220.5,497.3 228,497.5 228.5,502.8 259.3,502.8 259.7,506.7 324.7,506.7" stroke="#34eeff" stroke-width="1.2"/><polyline points="192.1,470 192.7,473.1 194.4,473.8 195.2,481.8 202.4,482.2 203.9,484.7 210,485.2 228.2,485.4 228.6,502.9 241.3,502.9 241.6,507 273.1,507 274.3,510.5 280,512.2 313.3,512.2 314,522 317,522 318,523.3 324.7,523.5" stroke="#ff9632" stroke-width="1.15"/><polyline points="191.6,435.3 192.7,447.6 194,448.3 324.7,448.8" stroke="#4096dc" stroke-width="1.1"/><polyline points="191.1,437.7 192,464.2 192.7,494.3 193.4,508.2 195,518.6 197.3,519.7 199.7,522 202,523.9 205.4,524.4 324.7,524.4" stroke="#ff1010" stroke-width="1.5"/></g><path d="M191.1 533.6v-1.3M191.1 422.2v1.3M204.46 533.6v-1.3M204.46 422.2v1.3M217.82 533.6v-1.3M217.82 422.2v1.3M231.18 533.6v-1.3M231.18 422.2v1.3M244.54 533.6v-1.3M244.54 422.2v1.3M257.9 533.6v-1.3M257.9 422.2v1.3M271.26 533.6v-1.3M271.26 422.2v1.3M284.62 533.6v-1.3M284.62 422.2v1.3M297.98 533.6v-1.3M297.98 422.2v1.3M311.34 533.6v-1.3M311.34 422.2v1.3M324.7 533.6v-1.3M324.7 422.2v1.3M191.1 422.2h1.3M324.7 422.2h-1.3M191.1 440.77h1.3M324.7 440.77h-1.3M191.1 459.33h1.3M324.7 459.33h-1.3M191.1 477.9h1.3M324.7 477.9h-1.3M191.1 496.47h1.3M324.7 496.47h-1.3M191.1 515.03h1.3M324.7 515.03h-1.3M191.1 533.6h1.3M324.7 533.6h-1.3M191.1 528.01h0.7M324.7 528.01h-0.7M191.1 524.74h0.7M324.7 524.74h-0.7M191.1 522.42h0.7M324.7 522.42h-0.7M191.1 520.62h0.7M324.7 520.62h-0.7M191.1 519.15h0.7M324.7 519.15h-0.7M191.1 517.91h0.7M324.7 517.91h-0.7M191.1 516.83h0.7M324.7 516.83h-0.7M191.1 515.88h0.7M324.7 515.88h-0.7M191.1 509.44h0.7M324.7 509.44h-0.7M191.1 506.17h0.7M324.7 506.17h-0.7M191.1 503.86h0.7M324.7 503.86h-0.7M191.1 502.06h0.7M324.7 502.06h-0.7M191.1 500.59h0.7M324.7 500.59h-0.7M191.1 499.34h0.7M324.7 499.34h-0.7M191.1 498.27h0.7M324.7 498.27h-0.7M191.1 497.32h0.7M324.7 497.32h-0.7M191.1 490.88h0.7M324.7 490.88h-0.7M191.1 487.61h0.7M324.7 487.61h-0.7M191.1 485.29h0.7M324.7 485.29h-0.7M191.1 483.49h0.7M324.7 483.49h-0.7M191.1 482.02h0.7M324.7 482.02h-0.7M191.1 480.78h0.7M324.7 480.78h-0.7M191.1 479.7h0.7M324.7 479.7h-0.7M191.1 478.75h0.7M324.7 478.75h-0.7M191.1 472.31h0.7M324.7 472.31h-0.7M191.1 469.04h0.7M324.7 469.04h-0.7M191.1 466.72h0.7M324.7 466.72h-0.7M191.1 464.92h0.7M324.7 464.92h-0.7M191.1 463.45h0.7M324.7 463.45h-0.7M191.1 462.21h0.7M324.7 462.21h-0.7M191.1 461.13h0.7M324.7 461.13h-0.7M191.1 460.18h0.7M324.7 460.18h-0.7M191.1 453.74h0.7M324.7 453.74h-0.7M191.1 450.47h0.7M324.7 450.47h-0.7M191.1 448.16h0.7M324.7 448.16h-0.7M191.1 446.36h0.7M324.7 446.36h-0.7M191.1 444.89h0.7M324.7 444.89h-0.7M191.1 443.64h0.7M324.7 443.64h-0.7M191.1 442.57h0.7M324.7 442.57h-0.7M191.1 441.62h0.7M324.7 441.62h-0.7M191.1 435.18h0.7M324.7 435.18h-0.7M191.1 431.91h0.7M324.7 431.91h-0.7M191.1 429.59h0.7M324.7 429.59h-0.7M191.1 427.79h0.7M324.7 427.79h-0.7M191.1 426.32h0.7M324.7 426.32h-0.7M191.1 425.08h0.7M324.7 425.08h-0.7M191.1 424h0.7M324.7 424h-0.7M191.1 423.05h0.7M324.7 423.05h-0.7" stroke="#8a8a8a" stroke-width="0.6" fill="none"/><rect x="241.6" y="425.7" width="80.7" height="17.3" fill="#fff" stroke="#a8a8a8" stroke-width="0.6"/></g>
<g><clipPath id="c11"><rect x="362.8" y="421.2" width="135.7" height="113.4"/></clipPath><rect x="363.8" y="422.2" width="133.7" height="111.4" fill="none" stroke="#8a8a8a" stroke-width="0.8"/><g clip-path="url(#c11)" fill="none" stroke-linejoin="round" stroke-linecap="butt"><polyline points="364.2,457.3 365.4,487.4 367,496 368,505 371,508 378,512 400,512.5 425,513.1 497.5,514.5" stroke="#3535ff" stroke-width="1.2"/><polyline points="364.7,473.5 366.6,475.8 371.2,478.6 378.1,480.9 389.7,483.2 401.2,483.9 412.8,484.2 497.5,484.2" stroke="#454545" stroke-width="1.05"/><polyline points="365.4,503.5 368.9,509.3 398.9,509.3 399.5,510 497.5,510.3" stroke="#f6f030" stroke-width="1.2"/><polyline points="366.1,510.5 368.4,516.3 371.2,517.4 497.5,517.2" stroke="#ff28ff" stroke-width="1.2"/><polyline points="364.2,438.8 364.3,490 365.4,510.5 367.7,514 380,514.5 497.5,514.9" stroke="#34e234" stroke-width="1.2"/><polyline points="365.4,477 366,477.5 368.2,478.2 368.9,481.8 369.6,489.1 371.1,499.3 371.8,502.2 373.3,505.9 376.2,506.3 376.9,510.2 380,511 420,512.5 430,516 497.4,516.1" stroke="#34eeff" stroke-width="1.2"/><polyline points="364.7,496.6 366.6,498.9 373.5,498.9 375.3,500.8 398.9,500.8 399.2,503.1 414,503.1 414.3,505.4 446.9,506.4 448,508 451.5,510 455,512.2 482.7,512.7 486,513.8 492,515 497.5,516.8" stroke="#ff9632" stroke-width="1.15"/><polyline points="364.7,494.3 367.7,501.2 371.2,503.5 497.5,503.4" stroke="#4096dc" stroke-width="1.1"/><polyline points="364.2,459.6 364.3,478 364.5,495 365.3,500.8 366.7,506.6 368.2,509.5 369.6,511 371.1,511.7 376.9,512.4 394.4,513.2 412.6,514.2 413.3,519.7 497.5,520" stroke="#ff1010" stroke-width="1.5"/></g><path d="M363.8 533.6v-1.3M363.8 422.2v1.3M377.17 533.6v-1.3M377.17 422.2v1.3M390.54 533.6v-1.3M390.54 422.2v1.3M403.91 533.6v-1.3M403.91 422.2v1.3M417.28 533.6v-1.3M417.28 422.2v1.3M430.65 533.6v-1.3M430.65 422.2v1.3M444.02 533.6v-1.3M444.02 422.2v1.3M457.39 533.6v-1.3M457.39 422.2v1.3M470.76 533.6v-1.3M470.76 422.2v1.3M484.13 533.6v-1.3M484.13 422.2v1.3M497.5 533.6v-1.3M497.5 422.2v1.3M363.8 422.2h1.3M497.5 422.2h-1.3M363.8 450.05h1.3M497.5 450.05h-1.3M363.8 477.9h1.3M497.5 477.9h-1.3M363.8 505.75h1.3M497.5 505.75h-1.3M363.8 533.6h1.3M497.5 533.6h-1.3M363.8 525.22h0.7M497.5 525.22h-0.7M363.8 520.31h0.7M497.5 520.31h-0.7M363.8 516.83h0.7M497.5 516.83h-0.7M363.8 514.13h0.7M497.5 514.13h-0.7M363.8 511.93h0.7M497.5 511.93h-0.7M363.8 510.06h0.7M497.5 510.06h-0.7M363.8 508.45h0.7M497.5 508.45h-0.7M363.8 507.02h0.7M497.5 507.02h-0.7M363.8 497.37h0.7M497.5 497.37h-0.7M363.8 492.46h0.7M497.5 492.46h-0.7M363.8 488.98h0.7M497.5 488.98h-0.7M363.8 486.28h0.7M497.5 486.28h-0.7M363.8 484.08h0.7M497.5 484.08h-0.7M363.8 482.21h0.7M497.5 482.21h-0.7M363.8 480.6h0.7M497.5 480.6h-0.7M363.8 479.17h0.7M497.5 479.17h-0.7M363.8 469.52h0.7M497.5 469.52h-0.7M363.8 464.61h0.7M497.5 464.61h-0.7M363.8 461.13h0.7M497.5 461.13h-0.7M363.8 458.43h0.7M497.5 458.43h-0.7M363.8 456.23h0.7M497.5 456.23h-0.7M363.8 454.36h0.7M497.5 454.36h-0.7M363.8 452.75h0.7M497.5 452.75h-0.7M363.8 451.32h0.7M497.5 451.32h-0.7M363.8 441.67h0.7M497.5 441.67h-0.7M363.8 436.76h0.7M497.5 436.76h-0.7M363.8 433.28h0.7M497.5 433.28h-0.7M363.8 430.58h0.7M497.5 430.58h-0.7M363.8 428.38h0.7M497.5 428.38h-0.7M363.8 426.51h0.7M497.5 426.51h-0.7M363.8 424.9h0.7M497.5 424.9h-0.7M363.8 423.47h0.7M497.5 423.47h-0.7" stroke="#8a8a8a" stroke-width="0.6" fill="none"/><rect x="464.7" y="424.9" width="30" height="50.3" fill="#fff" stroke="#a8a8a8" stroke-width="0.6"/></g>
</g>
<g><g font-size="4.5" fill="#444444" stroke="#444444" stroke-width="0.07" text-anchor="middle"><text x="19.7" y="127.3" transform="rotate(0.4 19.7 127.3)">0</text><text x="33.01" y="127.3" transform="rotate(0.4 33.01 127.3)">50</text><text x="46.32" y="127.3" transform="rotate(0.4 46.32 127.3)">100</text><text x="59.63" y="127.3" transform="rotate(0.4 59.63 127.3)">150</text><text x="72.94" y="127.3" transform="rotate(0.4 72.94 127.3)">200</text><text x="86.25" y="127.3" transform="rotate(0.4 86.25 127.3)">250</text><text x="99.56" y="127.3" transform="rotate(0.4 99.56 127.3)">300</text><text x="112.87" y="127.3" transform="rotate(0.4 112.87 127.3)">350</text><text x="126.18" y="127.3" transform="rotate(0.4 126.18 127.3)">400</text><text x="139.49" y="127.3" transform="rotate(0.4 139.49 127.3)">450</text><text x="152.8" y="127.3" transform="rotate(0.4 152.8 127.3)">500</text></g><g font-size="4.5" fill="#444444" stroke="#444444" stroke-width="0.07" text-anchor="end"><text x="18.1" y="18.85" transform="rotate(0.4 18.1 18.85)">2150</text><text x="18.1" y="39.65" transform="rotate(0.4 18.1 39.65)">2100</text><text x="18.1" y="60.45" transform="rotate(0.4 18.1 60.45)">2050</text><text x="18.1" y="81.25" transform="rotate(0.4 18.1 81.25)">2000</text><text x="18.1" y="102.05" transform="rotate(0.4 18.1 102.05)">1950</text></g><text x="87.15" y="133.7" transform="rotate(0.4 86.25 133.7)" font-size="4.6" letter-spacing="0.22" fill="#333" stroke="#333" stroke-width="0.08" text-anchor="middle">Iteration#</text><text transform="translate(5.9 64.9) rotate(-89.6)" letter-spacing="0.05" font-size="4.6" fill="#333" stroke="#333" stroke-width="0.08" text-anchor="middle">Best score obtained so far</text><text x="86.75" y="5.9" transform="rotate(0.4 86.25 5.9)" letter-spacing="0.2" font-size="4.9" fill="#383838" text-anchor="middle">CEC19</text><g font-size="3.75" letter-spacing="0.06" fill="#333" stroke="#333" stroke-width="0.12"><path d="M121 15.45H133" stroke="#ff1010" stroke-width="1.0"/><text x="134.1" y="16.85" transform="rotate(0.4 134.1 16.85)">MSCSO</text><path d="M121 20.83H133" stroke="#3535ff" stroke-width="1.15"/><text x="134.1" y="22.23" transform="rotate(0.4 134.1 22.23)">SCSO</text><path d="M121 26.2H133" stroke="#454545" stroke-width="1.1"/><text x="134.1" y="27.6" transform="rotate(0.4 134.1 27.6)">AOA</text><path d="M121 31.58H133" stroke="#f6f030" stroke-width="1.15"/><text x="134.1" y="32.98" transform="rotate(0.4 134.1 32.98)">BES</text><path d="M121 36.95H133" stroke="#ff28ff" stroke-width="1.15"/><text x="134.1" y="38.35" transform="rotate(0.4 134.1 38.35)">WOA</text><path d="M121 42.33H133" stroke="#34e234" stroke-width="1.15"/><text x="134.1" y="43.73" transform="rotate(0.4 134.1 43.73)">BOA</text><path d="M121 47.7H133" stroke="#34eeff" stroke-width="1.15"/><text x="134.1" y="49.1" transform="rotate(0.4 134.1 49.1)">SCA</text><path d="M121 53.08H133" stroke="#ff9632" stroke-width="1.0"/><text x="134.1" y="54.48" transform="rotate(0.4 134.1 54.48)">STOA</text><path d="M121 58.45H133" stroke="#4096dc" stroke-width="1.05"/><text x="134.1" y="59.85" transform="rotate(0.4 134.1 59.85)">GA</text></g><g font-size="4.5" fill="#444444" stroke="#444444" stroke-width="0.07" text-anchor="middle"><text x="191.4" y="127.1" transform="rotate(0.4 191.4 127.1)">0</text><text x="204.75" y="127.1" transform="rotate(0.4 204.75 127.1)">50</text><text x="218.1" y="127.1" transform="rotate(0.4 218.1 127.1)">100</text><text x="231.45" y="127.1" transform="rotate(0.4 231.45 127.1)">150</text><text x="244.8" y="127.1" transform="rotate(0.4 244.8 127.1)">200</text><text x="258.15" y="127.1" transform="rotate(0.4 258.15 127.1)">250</text><text x="271.5" y="127.1" transform="rotate(0.4 271.5 127.1)">300</text><text x="284.85" y="127.1" transform="rotate(0.4 284.85 127.1)">350</text><text x="298.2" y="127.1" transform="rotate(0.4 298.2 127.1)">400</text><text x="311.55" y="127.1" transform="rotate(0.4 311.55 127.1)">450</text><text x="324.9" y="127.1" transform="rotate(0.4 324.9 127.1)">500</text></g><g font-size="4.5" fill="#444444" stroke="#444444" stroke-width="0.07" text-anchor="end"><text x="190.2" y="9.2" transform="rotate(-22 190.2 8.1)">10<tspan font-size="2.8" dy="-2">9</tspan></text><text x="190.2" y="27.9" transform="rotate(-22 190.2 26.8)">10<tspan font-size="2.8" dy="-2">8</tspan></text><text x="190.2" y="46.6" transform="rotate(-22 190.2 45.5)">10<tspan font-size="2.8" dy="-2">7</tspan></text><text x="190.2" y="65.3" transform="rotate(-22 190.2 64.2)">10<tspan font-size="2.8" dy="-2">6</tspan></text><text x="190.2" y="84" transform="rotate(-22 190.2 82.9)">10<tspan font-size="2.8" dy="-2">5</tspan></text><text x="190.2" y="102.7" transform="rotate(-22 190.2 101.6)">10<tspan font-size="2.8" dy="-2">4</tspan></text><text x="190.2" y="121.4" transform="rotate(-22 190.2 120.3)">10<tspan font-size="2.8" dy="-2">3</tspan></text></g><text x="259.05" y="133.5" transform="rotate(0.4 258.15 133.5)" font-size="4.6" letter-spacing="0.22" fill="#333" stroke="#333" stroke-width="0.08" text-anchor="middle">Iteration#</text><text transform="translate(181.7 64.8) rotate(-89.6)" letter-spacing="0.05" font-size="4.6" fill="#333" stroke="#333" stroke-width="0.08" text-anchor="middle">Best score obtained so far</text><text x="258.65" y="5.9" transform="rotate(0.4 258.15 5.9)" letter-spacing="0.2" font-size="4.9" fill="#383838" text-anchor="middle">CEC20</text><g font-size="3.75" letter-spacing="0.06" fill="#333" stroke="#333" stroke-width="0.12"><path d="M293.7 15.6H305.7" stroke="#ff1010" stroke-width="1.0"/><text x="306.8" y="17" transform="rotate(0.4 306.8 17)">MSCSO</text><path d="M293.7 20.98H305.7" stroke="#3535ff" stroke-width="1.15"/><text x="306.8" y="22.38" transform="rotate(0.4 306.8 22.38)">SCSO</text><path d="M293.7 26.35H305.7" stroke="#454545" stroke-width="1.1"/><text x="306.8" y="27.75" transform="rotate(0.4 306.8 27.75)">AOA</text><path d="M293.7 31.73H305.7" stroke="#f6f030" stroke-width="1.15"/><text x="306.8" y="33.12" transform="rotate(0.4 306.8 33.12)">BES</text><path d="M293.7 37.1H305.7" stroke="#ff28ff" stroke-width="1.15"/><text x="306.8" y="38.5" transform="rotate(0.4 306.8 38.5)">WOA</text><path d="M293.7 42.48H305.7" stroke="#34e234" stroke-width="1.15"/><text x="306.8" y="43.88" transform="rotate(0.4 306.8 43.88)">BOA</text><path d="M293.7 47.85H305.7" stroke="#34eeff" stroke-width="1.15"/><text x="306.8" y="49.25" transform="rotate(0.4 306.8 49.25)">SCA</text><path d="M293.7 53.23H305.7" stroke="#ff9632" stroke-width="1.0"/><text x="306.8" y="54.62" transform="rotate(0.4 306.8 54.62)">STOA</text><path d="M293.7 58.6H305.7" stroke="#4096dc" stroke-width="1.05"/><text x="306.8" y="60" transform="rotate(0.4 306.8 60)">GA</text></g><g font-size="4.5" fill="#444444" stroke="#444444" stroke-width="0.07" text-anchor="middle"><text x="364.3" y="127" transform="rotate(0.4 364.3 127)">0</text><text x="377.61" y="127" transform="rotate(0.4 377.61 127)">50</text><text x="390.92" y="127" transform="rotate(0.4 390.92 127)">100</text><text x="404.23" y="127" transform="rotate(0.4 404.23 127)">150</text><text x="417.54" y="127" transform="rotate(0.4 417.54 127)">200</text><text x="430.85" y="127" transform="rotate(0.4 430.85 127)">250</text><text x="444.16" y="127" transform="rotate(0.4 444.16 127)">300</text><text x="457.47" y="127" transform="rotate(0.4 457.47 127)">350</text><text x="470.78" y="127" transform="rotate(0.4 470.78 127)">400</text><text x="484.09" y="127" transform="rotate(0.4 484.09 127)">450</text><text x="497.4" y="127" transform="rotate(0.4 497.4 127)">500</text></g><g font-size="4.5" fill="#444444" stroke="#444444" stroke-width="0.07" text-anchor="end"><text x="363.1" y="9.4" transform="rotate(-22 363.1 8.3)">10<tspan font-size="2.8" dy="-2">9</tspan></text><text x="363.1" y="28.05" transform="rotate(-22 363.1 26.95)">10<tspan font-size="2.8" dy="-2">8</tspan></text><text x="363.1" y="46.7" transform="rotate(-22 363.1 45.6)">10<tspan font-size="2.8" dy="-2">7</tspan></text><text x="363.1" y="65.35" transform="rotate(-22 363.1 64.25)">10<tspan font-size="2.8" dy="-2">6</tspan></text><text x="363.1" y="84" transform="rotate(-22 363.1 82.9)">10<tspan font-size="2.8" dy="-2">5</tspan></text><text x="363.1" y="102.65" transform="rotate(-22 363.1 101.55)">10<tspan font-size="2.8" dy="-2">4</tspan></text><text x="363.1" y="121.3" transform="rotate(-22 363.1 120.2)">10<tspan font-size="2.8" dy="-2">3</tspan></text></g><text x="431.75" y="133.4" transform="rotate(0.4 430.85 133.4)" font-size="4.6" letter-spacing="0.22" fill="#333" stroke="#333" stroke-width="0.08" text-anchor="middle">Iteration#</text><text transform="translate(352.8 64.85) rotate(-89.6)" letter-spacing="0.05" font-size="4.6" fill="#333" stroke="#333" stroke-width="0.08" text-anchor="middle">Best score obtained so far</text><text x="431.35" y="6.1" transform="rotate(0.4 430.85 6.1)" letter-spacing="0.2" font-size="4.9" fill="#383838" text-anchor="middle">CEC21</text><g font-size="3.75" letter-spacing="0.06" fill="#333" stroke="#333" stroke-width="0.12"><path d="M415.5 15.7H427" stroke="#ff1010" stroke-width="1.0"/><text x="428.1" y="17.1" transform="rotate(0.4 428.1 17.1)">MSCSO</text><path d="M415.5 20.95H427" stroke="#3535ff" stroke-width="1.15"/><text x="428.1" y="22.35" transform="rotate(0.4 428.1 22.35)">SCSO</text><path d="M415.5 26.2H427" stroke="#454545" stroke-width="1.1"/><text x="428.1" y="27.6" transform="rotate(0.4 428.1 27.6)">AOA</text><path d="M445.5 15.7H457.1" stroke="#f6f030" stroke-width="1.15"/><text x="458.4" y="17.1" transform="rotate(0.4 458.4 17.1)">BES</text><path d="M445.5 20.95H457.1" stroke="#ff28ff" stroke-width="1.15"/><text x="458.4" y="22.35" transform="rotate(0.4 458.4 22.35)">WOA</text><path d="M445.5 26.2H457.1" stroke="#34e234" stroke-width="1.15"/><text x="458.4" y="27.6" transform="rotate(0.4 458.4 27.6)">BOA</text><path d="M470.1 15.7H481.7" stroke="#34eeff" stroke-width="1.15"/><text x="482.7" y="17.1" transform="rotate(0.4 482.7 17.1)">SCA</text><path d="M470.1 20.95H481.7" stroke="#ff9632" stroke-width="1.0"/><text x="482.7" y="22.35" transform="rotate(0.4 482.7 22.35)">STOA</text><path d="M470.1 26.2H481.7" stroke="#4096dc" stroke-width="1.05"/><text x="482.7" y="27.6" transform="rotate(0.4 482.7 27.6)">GA</text></g><g font-size="4.5" fill="#444444" stroke="#444444" stroke-width="0.07" text-anchor="middle"><text x="19.7" y="265.2" transform="rotate(0.4 19.7 265.2)">0</text><text x="32.98" y="265.2" transform="rotate(0.4 32.98 265.2)">50</text><text x="46.26" y="265.2" transform="rotate(0.4 46.26 265.2)">100</text><text x="59.54" y="265.2" transform="rotate(0.4 59.54 265.2)">150</text><text x="72.82" y="265.2" transform="rotate(0.4 72.82 265.2)">200</text><text x="86.1" y="265.2" transform="rotate(0.4 86.1 265.2)">250</text><text x="99.38" y="265.2" transform="rotate(0.4 99.38 265.2)">300</text><text x="112.66" y="265.2" transform="rotate(0.4 112.66 265.2)">350</text><text x="125.94" y="265.2" transform="rotate(0.4 125.94 265.2)">400</text><text x="139.22" y="265.2" transform="rotate(0.4 139.22 265.2)">450</text><text x="152.5" y="265.2" transform="rotate(0.4 152.5 265.2)">500</text></g><g font-size="4.5" fill="#444444" stroke="#444444" stroke-width="0.07" text-anchor="end"><text x="18.1" y="149.95" transform="rotate(0.4 18.1 149.95)">3100</text><text x="18.1" y="160.9" transform="rotate(0.4 18.1 160.9)">3000</text><text x="18.1" y="172.22" transform="rotate(0.4 18.1 172.22)">2900</text><text x="18.1" y="183.94" transform="rotate(0.4 18.1 183.94)">2800</text><text x="18.1" y="196.09" transform="rotate(0.4 18.1 196.09)">2700</text><text x="18.1" y="208.69" transform="rotate(0.4 18.1 208.69)">2600</text><text x="18.1" y="221.79" transform="rotate(0.4 18.1 221.79)">2500</text><text x="18.1" y="235.42" transform="rotate(0.4 18.1 235.42)">2400</text><text x="18.1" y="249.64" transform="rotate(0.4 18.1 249.64)">2300</text></g><text x="87" y="271.6" transform="rotate(0.4 86.1 271.6)" font-size="4.6" letter-spacing="0.22" fill="#333" stroke="#333" stroke-width="0.08" text-anchor="middle">Iteration#</text><text transform="translate(5.9 202.95) rotate(-89.6)" letter-spacing="0.05" font-size="4.6" fill="#333" stroke="#333" stroke-width="0.08" text-anchor="middle">Best score obtained so far</text><text x="86.6" y="144.1" transform="rotate(0.4 86.1 144.1)" letter-spacing="0.2" font-size="4.9" fill="#383838" text-anchor="middle">CEC22</text><g font-size="3.75" letter-spacing="0.06" fill="#333" stroke="#333" stroke-width="0.12"><path d="M121 152.8H133" stroke="#ff1010" stroke-width="1.0"/><text x="134.1" y="154.2" transform="rotate(0.4 134.1 154.2)">MSCSO</text><path d="M121 158.18H133" stroke="#3535ff" stroke-width="1.15"/><text x="134.1" y="159.58" transform="rotate(0.4 134.1 159.58)">SCSO</text><path d="M121 163.55H133" stroke="#454545" stroke-width="1.1"/><text x="134.1" y="164.95" transform="rotate(0.4 134.1 164.95)">AOA</text><path d="M121 168.93H133" stroke="#f6f030" stroke-width="1.15"/><text x="134.1" y="170.33" transform="rotate(0.4 134.1 170.33)">BES</text><path d="M121 174.3H133" stroke="#ff28ff" stroke-width="1.15"/><text x="134.1" y="175.7" transform="rotate(0.4 134.1 175.7)">WOA</text><path d="M121 179.68H133" stroke="#34e234" stroke-width="1.15"/><text x="134.1" y="181.08" transform="rotate(0.4 134.1 181.08)">BOA</text><path d="M121 185.05H133" stroke="#34eeff" stroke-width="1.15"/><text x="134.1" y="186.45" transform="rotate(0.4 134.1 186.45)">SCA</text><path d="M121 190.43H133" stroke="#ff9632" stroke-width="1.0"/><text x="134.1" y="191.83" transform="rotate(0.4 134.1 191.83)">STOA</text><path d="M121 195.8H133" stroke="#4096dc" stroke-width="1.05"/><text x="134.1" y="197.2" transform="rotate(0.4 134.1 197.2)">GA</text></g><g font-size="4.5" fill="#444444" stroke="#444444" stroke-width="0.07" text-anchor="middle"><text x="191.4" y="265.2" transform="rotate(0.4 191.4 265.2)">0</text><text x="204.76" y="265.2" transform="rotate(0.4 204.76 265.2)">50</text><text x="218.12" y="265.2" transform="rotate(0.4 218.12 265.2)">100</text><text x="231.48" y="265.2" transform="rotate(0.4 231.48 265.2)">150</text><text x="244.84" y="265.2" transform="rotate(0.4 244.84 265.2)">200</text><text x="258.2" y="265.2" transform="rotate(0.4 258.2 265.2)">250</text><text x="271.56" y="265.2" transform="rotate(0.4 271.56 265.2)">300</text><text x="284.92" y="265.2" transform="rotate(0.4 284.92 265.2)">350</text><text x="298.28" y="265.2" transform="rotate(0.4 298.28 265.2)">400</text><text x="311.64" y="265.2" transform="rotate(0.4 311.64 265.2)">450</text><text x="325" y="265.2" transform="rotate(0.4 325 265.2)">500</text></g><g font-size="4.5" fill="#444444" stroke="#444444" stroke-width="0.07" text-anchor="end"><text x="189.8" y="148.25" transform="rotate(0.4 189.8 148.25)">3800</text><text x="189.8" y="162.67" transform="rotate(0.4 189.8 162.67)">3600</text><text x="189.8" y="177.91" transform="rotate(0.4 189.8 177.91)">3400</text><text x="189.8" y="194.08" transform="rotate(0.4 189.8 194.08)">3200</text><text x="189.8" y="211.28" transform="rotate(0.4 189.8 211.28)">3000</text><text x="189.8" y="229.68" transform="rotate(0.4 189.8 229.68)">2800</text><text x="189.8" y="249.44" transform="rotate(0.4 189.8 249.44)">2600</text></g><text x="259.1" y="271.6" transform="rotate(0.4 258.2 271.6)" font-size="4.6" letter-spacing="0.22" fill="#333" stroke="#333" stroke-width="0.08" text-anchor="middle">Iteration#</text><text transform="translate(178.2 202.9) rotate(-89.6)" letter-spacing="0.05" font-size="4.6" fill="#333" stroke="#333" stroke-width="0.08" text-anchor="middle">Best score obtained so far</text><text x="258.7" y="144" transform="rotate(0.4 258.2 144)" letter-spacing="0.2" font-size="4.9" fill="#383838" text-anchor="middle">CEC23</text><g font-size="3.75" letter-spacing="0.06" fill="#333" stroke="#333" stroke-width="0.12"><path d="M294.2 153H306.2" stroke="#ff1010" stroke-width="1.0"/><text x="307.3" y="154.4" transform="rotate(0.4 307.3 154.4)">MSCSO</text><path d="M294.2 158.38H306.2" stroke="#3535ff" stroke-width="1.15"/><text x="307.3" y="159.78" transform="rotate(0.4 307.3 159.78)">SCSO</text><path d="M294.2 163.75H306.2" stroke="#454545" stroke-width="1.1"/><text x="307.3" y="165.15" transform="rotate(0.4 307.3 165.15)">AOA</text><path d="M294.2 169.12H306.2" stroke="#f6f030" stroke-width="1.15"/><text x="307.3" y="170.53" transform="rotate(0.4 307.3 170.53)">BES</text><path d="M294.2 174.5H306.2" stroke="#ff28ff" stroke-width="1.15"/><text x="307.3" y="175.9" transform="rotate(0.4 307.3 175.9)">WOA</text><path d="M294.2 179.88H306.2" stroke="#34e234" stroke-width="1.15"/><text x="307.3" y="181.28" transform="rotate(0.4 307.3 181.28)">BOA</text><path d="M294.2 185.25H306.2" stroke="#34eeff" stroke-width="1.15"/><text x="307.3" y="186.65" transform="rotate(0.4 307.3 186.65)">SCA</text><path d="M294.2 190.62H306.2" stroke="#ff9632" stroke-width="1.0"/><text x="307.3" y="192.03" transform="rotate(0.4 307.3 192.03)">STOA</text><path d="M294.2 196H306.2" stroke="#4096dc" stroke-width="1.05"/><text x="307.3" y="197.4" transform="rotate(0.4 307.3 197.4)">GA</text></g><g font-size="4.5" fill="#444444" stroke="#444444" stroke-width="0.07" text-anchor="middle"><text x="363.6" y="264.8" transform="rotate(0.4 363.6 264.8)">0</text><text x="376.98" y="264.8" transform="rotate(0.4 376.98 264.8)">50</text><text x="390.36" y="264.8" transform="rotate(0.4 390.36 264.8)">100</text><text x="403.74" y="264.8" transform="rotate(0.4 403.74 264.8)">150</text><text x="417.12" y="264.8" transform="rotate(0.4 417.12 264.8)">200</text><text x="430.5" y="264.8" transform="rotate(0.4 430.5 264.8)">250</text><text x="443.88" y="264.8" transform="rotate(0.4 443.88 264.8)">300</text><text x="457.26" y="264.8" transform="rotate(0.4 457.26 264.8)">350</text><text x="470.64" y="264.8" transform="rotate(0.4 470.64 264.8)">400</text><text x="484.02" y="264.8" transform="rotate(0.4 484.02 264.8)">450</text><text x="497.4" y="264.8" transform="rotate(0.4 497.4 264.8)">500</text></g><g font-size="4.5" fill="#444444" stroke="#444444" stroke-width="0.07" text-anchor="end"><text x="362" y="154.45" transform="rotate(0.4 362 154.45)">2660</text><text x="362" y="170.31" transform="rotate(0.4 362 170.31)">2640</text><text x="362" y="186.29" transform="rotate(0.4 362 186.29)">2620</text><text x="362" y="202.39" transform="rotate(0.4 362 202.39)">2600</text><text x="362" y="218.61" transform="rotate(0.4 362 218.61)">2580</text><text x="362" y="234.96" transform="rotate(0.4 362 234.96)">2560</text><text x="362" y="251.44" transform="rotate(0.4 362 251.44)">2540</text></g><text x="431.4" y="271.2" transform="rotate(0.4 430.5 271.2)" font-size="4.6" letter-spacing="0.22" fill="#333" stroke="#333" stroke-width="0.08" text-anchor="middle">Iteration#</text><text transform="translate(351.5 202.7) rotate(-89.6)" letter-spacing="0.05" font-size="4.6" fill="#333" stroke="#333" stroke-width="0.08" text-anchor="middle">Best score obtained so far</text><text x="431" y="144" transform="rotate(0.4 430.5 144)" letter-spacing="0.2" font-size="4.9" fill="#383838" text-anchor="middle">CEC24</text><g font-size="3.75" letter-spacing="0.06" fill="#333" stroke="#333" stroke-width="0.12"><path d="M415.5 153.05H427" stroke="#ff1010" stroke-width="1.0"/><text x="428.1" y="154.45" transform="rotate(0.4 428.1 154.45)">MSCSO</text><path d="M415.5 158.3H427" stroke="#3535ff" stroke-width="1.15"/><text x="428.1" y="159.7" transform="rotate(0.4 428.1 159.7)">SCSO</text><path d="M415.5 163.55H427" stroke="#454545" stroke-width="1.1"/><text x="428.1" y="164.95" transform="rotate(0.4 428.1 164.95)">AOA</text><path d="M445.5 153.05H457.1" stroke="#f6f030" stroke-width="1.15"/><text x="458.4" y="154.45" transform="rotate(0.4 458.4 154.45)">BES</text><path d="M445.5 158.3H457.1" stroke="#ff28ff" stroke-width="1.15"/><text x="458.4" y="159.7" transform="rotate(0.4 458.4 159.7)">WOA</text><path d="M445.5 163.55H457.1" stroke="#34e234" stroke-width="1.15"/><text x="458.4" y="164.95" transform="rotate(0.4 458.4 164.95)">BOA</text><path d="M470.1 153.05H481.7" stroke="#34eeff" stroke-width="1.15"/><text x="482.7" y="154.45" transform="rotate(0.4 482.7 154.45)">SCA</text><path d="M470.1 158.3H481.7" stroke="#ff9632" stroke-width="1.0"/><text x="482.7" y="159.7" transform="rotate(0.4 482.7 159.7)">STOA</text><path d="M470.1 163.55H481.7" stroke="#4096dc" stroke-width="1.05"/><text x="482.7" y="164.95" transform="rotate(0.4 482.7 164.95)">GA</text></g><g font-size="4.5" fill="#444444" stroke="#444444" stroke-width="0.07" text-anchor="middle"><text x="19.4" y="403.1" transform="rotate(0.4 19.4 403.1)">0</text><text x="32.72" y="403.1" transform="rotate(0.4 32.72 403.1)">50</text><text x="46.04" y="403.1" transform="rotate(0.4 46.04 403.1)">100</text><text x="59.36" y="403.1" transform="rotate(0.4 59.36 403.1)">150</text><text x="72.68" y="403.1" transform="rotate(0.4 72.68 403.1)">200</text><text x="86" y="403.1" transform="rotate(0.4 86 403.1)">250</text><text x="99.32" y="403.1" transform="rotate(0.4 99.32 403.1)">300</text><text x="112.64" y="403.1" transform="rotate(0.4 112.64 403.1)">350</text><text x="125.96" y="403.1" transform="rotate(0.4 125.96 403.1)">400</text><text x="139.28" y="403.1" transform="rotate(0.4 139.28 403.1)">450</text><text x="152.6" y="403.1" transform="rotate(0.4 152.6 403.1)">500</text></g><g font-size="4.5" fill="#444444" stroke="#444444" stroke-width="0.07" text-anchor="end"><text x="17.8" y="287.95" transform="rotate(0.4 17.8 287.95)">2800</text><text x="17.8" y="304.3" transform="rotate(0.4 17.8 304.3)">2780</text><text x="17.8" y="320.65" transform="rotate(0.4 17.8 320.65)">2760</text><text x="17.8" y="337" transform="rotate(0.4 17.8 337)">2740</text><text x="17.8" y="353.35" transform="rotate(0.4 17.8 353.35)">2720</text><text x="17.8" y="369.7" transform="rotate(0.4 17.8 369.7)">2700</text><text x="17.8" y="386.05" transform="rotate(0.4 17.8 386.05)">2680</text></g><text x="86.9" y="409.5" transform="rotate(0.4 86 409.5)" font-size="4.6" letter-spacing="0.22" fill="#333" stroke="#333" stroke-width="0.08" text-anchor="middle">Iteration#</text><text transform="translate(5.9 340.6) rotate(-89.6)" letter-spacing="0.05" font-size="4.6" fill="#333" stroke="#333" stroke-width="0.08" text-anchor="middle">Best score obtained so far</text><text x="86.5" y="281.5" transform="rotate(0.4 86 281.5)" letter-spacing="0.2" font-size="4.9" fill="#383838" text-anchor="middle">CEC25</text><g font-size="3.75" letter-spacing="0.06" fill="#333" stroke="#333" stroke-width="0.12"><path d="M121.2 290.85H133.2" stroke="#ff1010" stroke-width="1.0"/><text x="134.3" y="292.25" transform="rotate(0.4 134.3 292.25)">MSCSO</text><path d="M121.2 296.23H133.2" stroke="#3535ff" stroke-width="1.15"/><text x="134.3" y="297.62" transform="rotate(0.4 134.3 297.62)">SCSO</text><path d="M121.2 301.6H133.2" stroke="#454545" stroke-width="1.1"/><text x="134.3" y="303" transform="rotate(0.4 134.3 303)">AOA</text><path d="M121.2 306.98H133.2" stroke="#f6f030" stroke-width="1.15"/><text x="134.3" y="308.38" transform="rotate(0.4 134.3 308.38)">BES</text><path d="M121.2 312.35H133.2" stroke="#ff28ff" stroke-width="1.15"/><text x="134.3" y="313.75" transform="rotate(0.4 134.3 313.75)">WOA</text><path d="M121.2 317.73H133.2" stroke="#34e234" stroke-width="1.15"/><text x="134.3" y="319.12" transform="rotate(0.4 134.3 319.12)">BOA</text><path d="M121.2 323.1H133.2" stroke="#34eeff" stroke-width="1.15"/><text x="134.3" y="324.5" transform="rotate(0.4 134.3 324.5)">SCA</text><path d="M121.2 328.48H133.2" stroke="#ff9632" stroke-width="1.0"/><text x="134.3" y="329.88" transform="rotate(0.4 134.3 329.88)">STOA</text><path d="M121.2 333.85H133.2" stroke="#4096dc" stroke-width="1.05"/><text x="134.3" y="335.25" transform="rotate(0.4 134.3 335.25)">GA</text></g><g font-size="4.5" fill="#444444" stroke="#444444" stroke-width="0.07" text-anchor="middle"><text x="191.6" y="403.2" transform="rotate(0.4 191.6 403.2)">0</text><text x="204.95" y="403.2" transform="rotate(0.4 204.95 403.2)">50</text><text x="218.3" y="403.2" transform="rotate(0.4 218.3 403.2)">100</text><text x="231.65" y="403.2" transform="rotate(0.4 231.65 403.2)">150</text><text x="245" y="403.2" transform="rotate(0.4 245 403.2)">200</text><text x="258.35" y="403.2" transform="rotate(0.4 258.35 403.2)">250</text><text x="271.7" y="403.2" transform="rotate(0.4 271.7 403.2)">300</text><text x="285.05" y="403.2" transform="rotate(0.4 285.05 403.2)">350</text><text x="298.4" y="403.2" transform="rotate(0.4 298.4 403.2)">400</text><text x="311.75" y="403.2" transform="rotate(0.4 311.75 403.2)">450</text><text x="325.1" y="403.2" transform="rotate(0.4 325.1 403.2)">500</text></g><g font-size="4.5" fill="#444444" stroke="#444444" stroke-width="0.07" text-anchor="end"><text x="190" y="298.45" transform="rotate(0.4 190 298.45)">2820</text><text x="190" y="315.01" transform="rotate(0.4 190 315.01)">2800</text><text x="190" y="331.57" transform="rotate(0.4 190 331.57)">2780</text><text x="190" y="348.13" transform="rotate(0.4 190 348.13)">2760</text><text x="190" y="364.69" transform="rotate(0.4 190 364.69)">2740</text><text x="190" y="381.25" transform="rotate(0.4 190 381.25)">2720</text></g><text x="259.25" y="409.6" transform="rotate(0.4 258.35 409.6)" font-size="4.6" letter-spacing="0.22" fill="#333" stroke="#333" stroke-width="0.08" text-anchor="middle">Iteration#</text><text transform="translate(179.3 340.65) rotate(-89.6)" letter-spacing="0.05" font-size="4.6" fill="#333" stroke="#333" stroke-width="0.08" text-anchor="middle">Best score obtained so far</text><text x="258.85" y="281.5" transform="rotate(0.4 258.35 281.5)" letter-spacing="0.2" font-size="4.9" fill="#383838" text-anchor="middle">CEC26</text><g font-size="3.75" letter-spacing="0.06" fill="#333" stroke="#333" stroke-width="0.12"><path d="M293.8 290.9H305.8" stroke="#ff1010" stroke-width="1.0"/><text x="306.9" y="292.3" transform="rotate(0.4 306.9 292.3)">MSCSO</text><path d="M293.8 296.27H305.8" stroke="#3535ff" stroke-width="1.15"/><text x="306.9" y="297.67" transform="rotate(0.4 306.9 297.67)">SCSO</text><path d="M293.8 301.65H305.8" stroke="#454545" stroke-width="1.1"/><text x="306.9" y="303.05" transform="rotate(0.4 306.9 303.05)">AOA</text><path d="M293.8 307.02H305.8" stroke="#f6f030" stroke-width="1.15"/><text x="306.9" y="308.42" transform="rotate(0.4 306.9 308.42)">BES</text><path d="M293.8 312.4H305.8" stroke="#ff28ff" stroke-width="1.15"/><text x="306.9" y="313.8" transform="rotate(0.4 306.9 313.8)">WOA</text><path d="M293.8 317.77H305.8" stroke="#34e234" stroke-width="1.15"/><text x="306.9" y="319.17" transform="rotate(0.4 306.9 319.17)">BOA</text><path d="M293.8 323.15H305.8" stroke="#34eeff" stroke-width="1.15"/><text x="306.9" y="324.55" transform="rotate(0.4 306.9 324.55)">SCA</text><path d="M293.8 328.52H305.8" stroke="#ff9632" stroke-width="1.0"/><text x="306.9" y="329.92" transform="rotate(0.4 306.9 329.92)">STOA</text><path d="M293.8 333.9H305.8" stroke="#4096dc" stroke-width="1.05"/><text x="306.9" y="335.3" transform="rotate(0.4 306.9 335.3)">GA</text></g><g font-size="4.5" fill="#444444" stroke="#444444" stroke-width="0.07" text-anchor="middle"><text x="363.7" y="403" transform="rotate(0.4 363.7 403)">0</text><text x="377.07" y="403" transform="rotate(0.4 377.07 403)">50</text><text x="390.44" y="403" transform="rotate(0.4 390.44 403)">100</text><text x="403.81" y="403" transform="rotate(0.4 403.81 403)">150</text><text x="417.18" y="403" transform="rotate(0.4 417.18 403)">200</text><text x="430.55" y="403" transform="rotate(0.4 430.55 403)">250</text><text x="443.92" y="403" transform="rotate(0.4 443.92 403)">300</text><text x="457.29" y="403" transform="rotate(0.4 457.29 403)">350</text><text x="470.66" y="403" transform="rotate(0.4 470.66 403)">400</text><text x="484.03" y="403" transform="rotate(0.4 484.03 403)">450</text><text x="497.4" y="403" transform="rotate(0.4 497.4 403)">500</text></g><g font-size="4.5" fill="#444444" stroke="#444444" stroke-width="0.07" text-anchor="end"><text x="362.1" y="293.55" transform="rotate(0.4 362.1 293.55)">3500</text><text x="362.1" y="305.25" transform="rotate(0.4 362.1 305.25)">3400</text><text x="362.1" y="317.31" transform="rotate(0.4 362.1 317.31)">3300</text><text x="362.1" y="329.73" transform="rotate(0.4 362.1 329.73)">3200</text><text x="362.1" y="342.55" transform="rotate(0.4 362.1 342.55)">3100</text><text x="362.1" y="355.79" transform="rotate(0.4 362.1 355.79)">3000</text><text x="362.1" y="369.48" transform="rotate(0.4 362.1 369.48)">2900</text><text x="362.1" y="383.65" transform="rotate(0.4 362.1 383.65)">2800</text></g><text x="431.45" y="409.4" transform="rotate(0.4 430.55 409.4)" font-size="4.6" letter-spacing="0.22" fill="#333" stroke="#333" stroke-width="0.08" text-anchor="middle">Iteration#</text><text transform="translate(350.8 340.55) rotate(-89.6)" letter-spacing="0.05" font-size="4.6" fill="#333" stroke="#333" stroke-width="0.08" text-anchor="middle">Best score obtained so far</text><text x="431.05" y="281.5" transform="rotate(0.4 430.55 281.5)" letter-spacing="0.2" font-size="4.9" fill="#383838" text-anchor="middle">CEC27</text><g font-size="3.75" letter-spacing="0.06" fill="#333" stroke="#333" stroke-width="0.12"><path d="M415.7 290.75H427.2" stroke="#ff1010" stroke-width="1.0"/><text x="428.3" y="292.15" transform="rotate(0.4 428.3 292.15)">MSCSO</text><path d="M415.7 296H427.2" stroke="#3535ff" stroke-width="1.15"/><text x="428.3" y="297.4" transform="rotate(0.4 428.3 297.4)">SCSO</text><path d="M415.7 301.25H427.2" stroke="#454545" stroke-width="1.1"/><text x="428.3" y="302.65" transform="rotate(0.4 428.3 302.65)">AOA</text><path d="M445.7 290.75H457.3" stroke="#f6f030" stroke-width="1.15"/><text x="458.6" y="292.15" transform="rotate(0.4 458.6 292.15)">BES</text><path d="M445.7 296H457.3" stroke="#ff28ff" stroke-width="1.15"/><text x="458.6" y="297.4" transform="rotate(0.4 458.6 297.4)">WOA</text><path d="M445.7 301.25H457.3" stroke="#34e234" stroke-width="1.15"/><text x="458.6" y="302.65" transform="rotate(0.4 458.6 302.65)">BOA</text><path d="M470.3 290.75H481.9" stroke="#34eeff" stroke-width="1.15"/><text x="482.9" y="292.15" transform="rotate(0.4 482.9 292.15)">SCA</text><path d="M470.3 296H481.9" stroke="#ff9632" stroke-width="1.0"/><text x="482.9" y="297.4" transform="rotate(0.4 482.9 297.4)">STOA</text><path d="M470.3 301.25H481.9" stroke="#4096dc" stroke-width="1.05"/><text x="482.9" y="302.65" transform="rotate(0.4 482.9 302.65)">GA</text></g><g font-size="4.5" fill="#444444" stroke="#444444" stroke-width="0.07" text-anchor="middle"><text x="19.2" y="540.6" transform="rotate(0.4 19.2 540.6)">0</text><text x="32.56" y="540.6" transform="rotate(0.4 32.56 540.6)">50</text><text x="45.92" y="540.6" transform="rotate(0.4 45.92 540.6)">100</text><text x="59.28" y="540.6" transform="rotate(0.4 59.28 540.6)">150</text><text x="72.64" y="540.6" transform="rotate(0.4 72.64 540.6)">200</text><text x="86" y="540.6" transform="rotate(0.4 86 540.6)">250</text><text x="99.36" y="540.6" transform="rotate(0.4 99.36 540.6)">300</text><text x="112.72" y="540.6" transform="rotate(0.4 112.72 540.6)">350</text><text x="126.08" y="540.6" transform="rotate(0.4 126.08 540.6)">400</text><text x="139.44" y="540.6" transform="rotate(0.4 139.44 540.6)">450</text><text x="152.8" y="540.6" transform="rotate(0.4 152.8 540.6)">500</text></g><g font-size="4.5" fill="#444444" stroke="#444444" stroke-width="0.07" text-anchor="end"><text x="17.6" y="436.05" transform="rotate(0.4 17.6 436.05)">5000</text><text x="17.6" y="456.53" transform="rotate(0.4 17.6 456.53)">4500</text><text x="17.6" y="479.43" transform="rotate(0.4 17.6 479.43)">4000</text><text x="17.6" y="505.38" transform="rotate(0.4 17.6 505.38)">3500</text><text x="17.6" y="535.35" transform="rotate(0.4 17.6 535.35)">3000</text></g><text x="86.9" y="547" transform="rotate(0.4 86 547)" font-size="4.6" letter-spacing="0.22" fill="#333" stroke="#333" stroke-width="0.08" text-anchor="middle">Iteration#</text><text transform="translate(5.9 478.5) rotate(-89.6)" letter-spacing="0.05" font-size="4.6" fill="#333" stroke="#333" stroke-width="0.08" text-anchor="middle">Best score obtained so far</text><text x="86.5" y="419.8" transform="rotate(0.4 86 419.8)" letter-spacing="0.2" font-size="4.9" fill="#383838" text-anchor="middle">CEC28</text><g font-size="3.75" letter-spacing="0.06" fill="#333" stroke="#333" stroke-width="0.12"><path d="M121.3 428.6H133.3" stroke="#ff1010" stroke-width="1.0"/><text x="134.4" y="430" transform="rotate(0.4 134.4 430)">MSCSO</text><path d="M121.3 433.98H133.3" stroke="#3535ff" stroke-width="1.15"/><text x="134.4" y="435.38" transform="rotate(0.4 134.4 435.38)">SCSO</text><path d="M121.3 439.35H133.3" stroke="#454545" stroke-width="1.1"/><text x="134.4" y="440.75" transform="rotate(0.4 134.4 440.75)">AOA</text><path d="M121.3 444.73H133.3" stroke="#f6f030" stroke-width="1.15"/><text x="134.4" y="446.12" transform="rotate(0.4 134.4 446.12)">BES</text><path d="M121.3 450.1H133.3" stroke="#ff28ff" stroke-width="1.15"/><text x="134.4" y="451.5" transform="rotate(0.4 134.4 451.5)">WOA</text><path d="M121.3 455.48H133.3" stroke="#34e234" stroke-width="1.15"/><text x="134.4" y="456.88" transform="rotate(0.4 134.4 456.88)">BOA</text><path d="M121.3 460.85H133.3" stroke="#34eeff" stroke-width="1.15"/><text x="134.4" y="462.25" transform="rotate(0.4 134.4 462.25)">SCA</text><path d="M121.3 466.23H133.3" stroke="#ff9632" stroke-width="1.0"/><text x="134.4" y="467.62" transform="rotate(0.4 134.4 467.62)">STOA</text><path d="M121.3 471.6H133.3" stroke="#4096dc" stroke-width="1.05"/><text x="134.4" y="473" transform="rotate(0.4 134.4 473)">GA</text></g><g font-size="4.5" fill="#444444" stroke="#444444" stroke-width="0.07" text-anchor="middle"><text x="191.1" y="540.2" transform="rotate(0.4 191.1 540.2)">0</text><text x="204.46" y="540.2" transform="rotate(0.4 204.46 540.2)">50</text><text x="217.82" y="540.2" transform="rotate(0.4 217.82 540.2)">100</text><text x="231.18" y="540.2" transform="rotate(0.4 231.18 540.2)">150</text><text x="244.54" y="540.2" transform="rotate(0.4 244.54 540.2)">200</text><text x="257.9" y="540.2" transform="rotate(0.4 257.9 540.2)">250</text><text x="271.26" y="540.2" transform="rotate(0.4 271.26 540.2)">300</text><text x="284.62" y="540.2" transform="rotate(0.4 284.62 540.2)">350</text><text x="297.98" y="540.2" transform="rotate(0.4 297.98 540.2)">400</text><text x="311.34" y="540.2" transform="rotate(0.4 311.34 540.2)">450</text><text x="324.7" y="540.2" transform="rotate(0.4 324.7 540.2)">500</text></g><g font-size="4.5" fill="#444444" stroke="#444444" stroke-width="0.07" text-anchor="end"><text x="189.9" y="423.1" transform="rotate(-22 189.9 422)">10<tspan font-size="2.8" dy="-2">9</tspan></text><text x="189.9" y="441.67" transform="rotate(-22 189.9 440.57)">10<tspan font-size="2.8" dy="-2">8</tspan></text><text x="189.9" y="460.23" transform="rotate(-22 189.9 459.13)">10<tspan font-size="2.8" dy="-2">7</tspan></text><text x="189.9" y="478.8" transform="rotate(-22 189.9 477.7)">10<tspan font-size="2.8" dy="-2">6</tspan></text><text x="189.9" y="497.37" transform="rotate(-22 189.9 496.27)">10<tspan font-size="2.8" dy="-2">5</tspan></text><text x="189.9" y="515.93" transform="rotate(-22 189.9 514.83)">10<tspan font-size="2.8" dy="-2">4</tspan></text><text x="189.9" y="534.5" transform="rotate(-22 189.9 533.4)">10<tspan font-size="2.8" dy="-2">3</tspan></text></g><text x="258.8" y="546.6" transform="rotate(0.4 257.9 546.6)" font-size="4.6" letter-spacing="0.22" fill="#333" stroke="#333" stroke-width="0.08" text-anchor="middle">Iteration#</text><text transform="translate(180.9 478.3) rotate(-89.6)" letter-spacing="0.05" font-size="4.6" fill="#333" stroke="#333" stroke-width="0.08" text-anchor="middle">Best score obtained so far</text><text x="258.4" y="419.8" transform="rotate(0.4 257.9 419.8)" letter-spacing="0.2" font-size="4.9" fill="#383838" text-anchor="middle">CEC29</text><g font-size="3.75" letter-spacing="0.06" fill="#333" stroke="#333" stroke-width="0.12"><path d="M243 429.1H254.5" stroke="#ff1010" stroke-width="1.0"/><text x="255.6" y="430.5" transform="rotate(0.4 255.6 430.5)">MSCSO</text><path d="M243 434.35H254.5" stroke="#3535ff" stroke-width="1.15"/><text x="255.6" y="435.75" transform="rotate(0.4 255.6 435.75)">SCSO</text><path d="M243 439.6H254.5" stroke="#454545" stroke-width="1.1"/><text x="255.6" y="441" transform="rotate(0.4 255.6 441)">AOA</text><path d="M273 429.1H284.6" stroke="#f6f030" stroke-width="1.15"/><text x="285.9" y="430.5" transform="rotate(0.4 285.9 430.5)">BES</text><path d="M273 434.35H284.6" stroke="#ff28ff" stroke-width="1.15"/><text x="285.9" y="435.75" transform="rotate(0.4 285.9 435.75)">WOA</text><path d="M273 439.6H284.6" stroke="#34e234" stroke-width="1.15"/><text x="285.9" y="441" transform="rotate(0.4 285.9 441)">BOA</text><path d="M297.6 429.1H309.2" stroke="#34eeff" stroke-width="1.15"/><text x="310.2" y="430.5" transform="rotate(0.4 310.2 430.5)">SCA</text><path d="M297.6 434.35H309.2" stroke="#ff9632" stroke-width="1.0"/><text x="310.2" y="435.75" transform="rotate(0.4 310.2 435.75)">STOA</text><path d="M297.6 439.6H309.2" stroke="#4096dc" stroke-width="1.05"/><text x="310.2" y="441" transform="rotate(0.4 310.2 441)">GA</text></g><g font-size="4.5" fill="#444444" stroke="#444444" stroke-width="0.07" text-anchor="middle"><text x="363.8" y="540.2" transform="rotate(0.4 363.8 540.2)">0</text><text x="377.17" y="540.2" transform="rotate(0.4 377.17 540.2)">50</text><text x="390.54" y="540.2" transform="rotate(0.4 390.54 540.2)">100</text><text x="403.91" y="540.2" transform="rotate(0.4 403.91 540.2)">150</text><text x="417.28" y="540.2" transform="rotate(0.4 417.28 540.2)">200</text><text x="430.65" y="540.2" transform="rotate(0.4 430.65 540.2)">250</text><text x="444.02" y="540.2" transform="rotate(0.4 444.02 540.2)">300</text><text x="457.39" y="540.2" transform="rotate(0.4 457.39 540.2)">350</text><text x="470.76" y="540.2" transform="rotate(0.4 470.76 540.2)">400</text><text x="484.13" y="540.2" transform="rotate(0.4 484.13 540.2)">450</text><text x="497.5" y="540.2" transform="rotate(0.4 497.5 540.2)">500</text></g><g font-size="4.5" fill="#444444" stroke="#444444" stroke-width="0.07" text-anchor="end"><text x="362.6" y="423.1" transform="rotate(-22 362.6 422)">10<tspan font-size="2.8" dy="-2">7</tspan></text><text x="362.6" y="450.95" transform="rotate(-22 362.6 449.85)">10<tspan font-size="2.8" dy="-2">6</tspan></text><text x="362.6" y="478.8" transform="rotate(-22 362.6 477.7)">10<tspan font-size="2.8" dy="-2">5</tspan></text><text x="362.6" y="506.65" transform="rotate(-22 362.6 505.55)">10<tspan font-size="2.8" dy="-2">4</tspan></text><text x="362.6" y="534.5" transform="rotate(-22 362.6 533.4)">10<tspan font-size="2.8" dy="-2">3</tspan></text></g><text x="431.55" y="546.6" transform="rotate(0.4 430.65 546.6)" font-size="4.6" letter-spacing="0.22" fill="#333" stroke="#333" stroke-width="0.08" text-anchor="middle">Iteration#</text><text transform="translate(352.8 478.3) rotate(-89.6)" letter-spacing="0.05" font-size="4.6" fill="#333" stroke="#333" stroke-width="0.08" text-anchor="middle">Best score obtained so far</text><text x="431.15" y="419.8" transform="rotate(0.4 430.65 419.8)" letter-spacing="0.2" font-size="4.9" fill="#383838" text-anchor="middle">CEC30</text><g font-size="3.75" letter-spacing="0.06" fill="#333" stroke="#333" stroke-width="0.12"><path d="M466.2 428.55H478.2" stroke="#ff1010" stroke-width="1.0"/><text x="479.3" y="429.95" transform="rotate(0.4 479.3 429.95)">MSCSO</text><path d="M466.2 433.92H478.2" stroke="#3535ff" stroke-width="1.15"/><text x="479.3" y="435.32" transform="rotate(0.4 479.3 435.32)">SCSO</text><path d="M466.2 439.3H478.2" stroke="#454545" stroke-width="1.1"/><text x="479.3" y="440.7" transform="rotate(0.4 479.3 440.7)">AOA</text><path d="M466.2 444.67H478.2" stroke="#f6f030" stroke-width="1.15"/><text x="479.3" y="446.07" transform="rotate(0.4 479.3 446.07)">BES</text><path d="M466.2 450.05H478.2" stroke="#ff28ff" stroke-width="1.15"/><text x="479.3" y="451.45" transform="rotate(0.4 479.3 451.45)">WOA</text><path d="M466.2 455.42H478.2" stroke="#34e234" stroke-width="1.15"/><text x="479.3" y="456.82" transform="rotate(0.4 479.3 456.82)">BOA</text><path d="M466.2 460.8H478.2" stroke="#34eeff" stroke-width="1.15"/><text x="479.3" y="462.2" transform="rotate(0.4 479.3 462.2)">SCA</text><path d="M466.2 466.17H478.2" stroke="#ff9632" stroke-width="1.0"/><text x="479.3" y="467.57" transform="rotate(0.4 479.3 467.57)">STOA</text><path d="M466.2 471.55H478.2" stroke="#4096dc" stroke-width="1.05"/><text x="479.3" y="472.95" transform="rotate(0.4 479.3 472.95)">GA</text></g></g>
</svg></div></div></body></html>
